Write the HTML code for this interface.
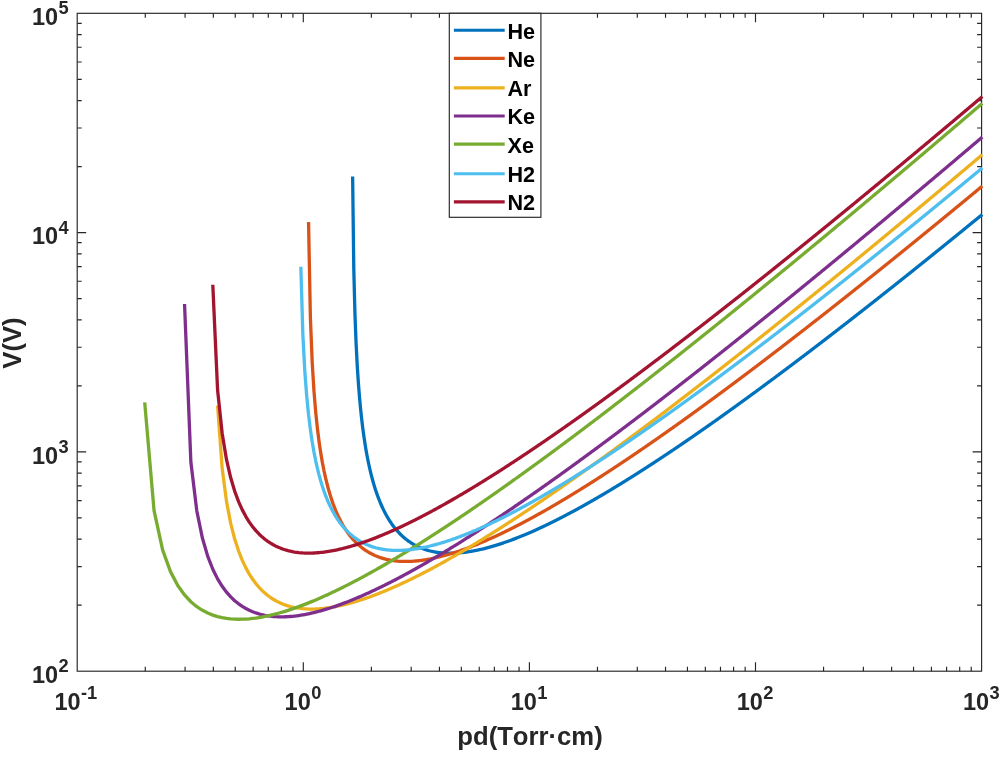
<!DOCTYPE html>
<html><head><meta charset="utf-8"><title>Paschen curves</title>
<style>html,body{margin:0;padding:0;background:#fff}body{width:1001px;height:761px;overflow:hidden}</style></head>
<body>
<svg width="1001" height="761" viewBox="0 0 1001 761" style="display:block">
<rect width="1001" height="761" fill="#fff"/>
<g stroke="#262626" stroke-width="1.15" fill="none">
<rect x="77.2" y="13.3" width="904.40" height="657.90"/>
<path d="M145.26 671.2 v-4.5 M145.26 13.3 v4.5 M185.08 671.2 v-4.5 M185.08 13.3 v4.5 M213.33 671.2 v-4.5 M213.33 13.3 v4.5 M235.24 671.2 v-4.5 M235.24 13.3 v4.5 M253.14 671.2 v-4.5 M253.14 13.3 v4.5 M268.28 671.2 v-4.5 M268.28 13.3 v4.5 M281.39 671.2 v-4.5 M281.39 13.3 v4.5 M292.95 671.2 v-4.5 M292.95 13.3 v4.5 M303.30 671.2 v-9.0 M303.30 13.3 v9.0 M371.36 671.2 v-4.5 M371.36 13.3 v4.5 M411.18 671.2 v-4.5 M411.18 13.3 v4.5 M439.43 671.2 v-4.5 M439.43 13.3 v4.5 M461.34 671.2 v-4.5 M461.34 13.3 v4.5 M479.24 671.2 v-4.5 M479.24 13.3 v4.5 M494.38 671.2 v-4.5 M494.38 13.3 v4.5 M507.49 671.2 v-4.5 M507.49 13.3 v4.5 M519.05 671.2 v-4.5 M519.05 13.3 v4.5 M529.40 671.2 v-9.0 M529.40 13.3 v9.0 M597.46 671.2 v-4.5 M597.46 13.3 v4.5 M637.28 671.2 v-4.5 M637.28 13.3 v4.5 M665.53 671.2 v-4.5 M665.53 13.3 v4.5 M687.44 671.2 v-4.5 M687.44 13.3 v4.5 M705.34 671.2 v-4.5 M705.34 13.3 v4.5 M720.48 671.2 v-4.5 M720.48 13.3 v4.5 M733.59 671.2 v-4.5 M733.59 13.3 v4.5 M745.15 671.2 v-4.5 M745.15 13.3 v4.5 M755.50 671.2 v-9.0 M755.50 13.3 v9.0 M823.56 671.2 v-4.5 M823.56 13.3 v4.5 M863.38 671.2 v-4.5 M863.38 13.3 v4.5 M891.63 671.2 v-4.5 M891.63 13.3 v4.5 M913.54 671.2 v-4.5 M913.54 13.3 v4.5 M931.44 671.2 v-4.5 M931.44 13.3 v4.5 M946.58 671.2 v-4.5 M946.58 13.3 v4.5 M959.69 671.2 v-4.5 M959.69 13.3 v4.5 M971.25 671.2 v-4.5 M971.25 13.3 v4.5 M77.2 605.18 h4.5 M981.6 605.18 h-4.5 M77.2 566.57 h4.5 M981.6 566.57 h-4.5 M77.2 539.17 h4.5 M981.6 539.17 h-4.5 M77.2 517.92 h4.5 M981.6 517.92 h-4.5 M77.2 500.55 h4.5 M981.6 500.55 h-4.5 M77.2 485.87 h4.5 M981.6 485.87 h-4.5 M77.2 473.15 h4.5 M981.6 473.15 h-4.5 M77.2 461.93 h4.5 M981.6 461.93 h-4.5 M77.2 451.90 h9.0 M981.6 451.90 h-9.0 M77.2 385.88 h4.5 M981.6 385.88 h-4.5 M77.2 347.27 h4.5 M981.6 347.27 h-4.5 M77.2 319.87 h4.5 M981.6 319.87 h-4.5 M77.2 298.62 h4.5 M981.6 298.62 h-4.5 M77.2 281.25 h4.5 M981.6 281.25 h-4.5 M77.2 266.57 h4.5 M981.6 266.57 h-4.5 M77.2 253.85 h4.5 M981.6 253.85 h-4.5 M77.2 242.63 h4.5 M981.6 242.63 h-4.5 M77.2 232.60 h9.0 M981.6 232.60 h-9.0 M77.2 166.58 h4.5 M981.6 166.58 h-4.5 M77.2 127.97 h4.5 M981.6 127.97 h-4.5 M77.2 100.57 h4.5 M981.6 100.57 h-4.5 M77.2 79.32 h4.5 M981.6 79.32 h-4.5 M77.2 61.95 h4.5 M981.6 61.95 h-4.5 M77.2 47.27 h4.5 M981.6 47.27 h-4.5 M77.2 34.55 h4.5 M981.6 34.55 h-4.5 M77.2 23.33 h4.5 M981.6 23.33 h-4.5"/>
</g>
<g fill="none" stroke-width="3.3" stroke-linejoin="round" stroke-linecap="butt">
<path d="M352.62 176.59 L353.80 269.59 L354.96 314.43 L356.11 343.88 L357.24 365.65 L358.37 382.79 L359.48 396.85 L360.57 408.71 L361.66 418.92 L362.73 427.84 L363.80 435.73 L364.85 442.79 L365.89 449.15 L366.91 454.92 L367.93 460.19 L368.94 465.03 L369.94 469.49 L370.93 473.61 L371.90 477.44 L372.87 481.01 L373.83 484.34 L374.78 487.46 L375.72 490.39 L376.65 493.14 L377.57 495.73 L378.49 498.18 L379.39 500.50 L380.29 502.69 L381.18 504.77 L382.06 506.74 L382.93 508.61 L383.80 510.39 L384.66 512.09 L385.51 513.71 L386.35 515.26 L387.19 516.73 L388.02 518.14 L388.84 519.49 L389.65 520.78 L390.46 522.01 L391.26 523.20 L392.06 524.33 L392.85 525.42 L393.63 526.47 L394.41 527.47 L395.18 528.44 L395.94 529.36 L396.70 530.26 L397.46 531.11 L398.20 531.94 L398.94 532.74 L399.68 533.50 L400.41 534.24 L401.14 534.95 L401.86 535.63 L402.57 536.30 L403.28 536.93 L403.98 537.55 L404.68 538.14 L405.38 538.71 L406.07 539.26 L406.75 539.80 L407.43 540.31 L408.11 540.81 L408.78 541.29 L409.44 541.75 L410.10 542.20 L410.76 542.63 L411.41 543.05 L412.06 543.45 L412.71 543.84 L413.35 544.22 L413.98 544.59 L414.62 544.94 L415.24 545.28 L415.87 545.61 L416.49 545.93 L417.10 546.23 L417.71 546.53 L418.32 546.82 L418.93 547.09 L419.53 547.36 L420.13 547.62 L420.72 547.87 L421.31 548.11 L421.90 548.34 L422.48 548.57 L423.64 549.00 L424.78 549.39 L425.91 549.77 L427.02 550.11 L428.13 550.43 L429.22 550.73 L430.30 551.00 L431.37 551.25 L432.42 551.49 L433.47 551.70 L434.50 551.90 L435.53 552.08 L436.54 552.25 L437.54 552.40 L438.53 552.53 L439.52 552.65 L440.49 552.76 L441.45 552.86 L442.41 552.94 L443.35 553.02 L444.29 553.08 L445.21 553.13 L446.13 553.18 L447.04 553.21 L447.94 553.23 L448.84 553.25 L449.72 553.26 L450.60 553.26 L451.47 553.25 L452.33 553.24 L453.18 553.21 L454.03 553.19 L454.87 553.15 L455.70 553.11 L456.53 553.07 L457.35 553.02 L458.16 552.96 L458.96 552.90 L459.76 552.83 L460.56 552.76 L461.34 552.69 L462.12 552.61 L462.90 552.52 L463.66 552.43 L464.42 552.34 L465.18 552.25 L465.93 552.15 L466.67 552.05 L467.41 551.94 L468.15 551.84 L468.87 551.72 L469.60 551.61 L470.31 551.49 L471.03 551.37 L471.73 551.25 L472.43 551.13 L473.13 551.00 L473.82 550.87 L474.51 550.74 L475.19 550.61 L475.87 550.48 L476.54 550.34 L477.21 550.20 L477.87 550.06 L478.53 549.92 L479.52 549.70 L480.49 549.48 L481.45 549.26 L482.40 549.04 L483.34 548.81 L484.28 548.58 L485.20 548.34 L486.12 548.11 L487.03 547.87 L487.93 547.63 L488.82 547.39 L489.70 547.14 L490.58 546.90 L491.45 546.65 L492.31 546.40 L493.16 546.15 L494.01 545.90 L494.85 545.65 L495.68 545.39 L496.50 545.14 L497.32 544.88 L498.13 544.63 L498.93 544.37 L499.73 544.11 L500.52 543.85 L501.31 543.59 L502.09 543.34 L502.86 543.08 L503.63 542.81 L504.39 542.55 L505.14 542.29 L505.89 542.03 L506.63 541.77 L507.37 541.51 L508.10 541.24 L508.83 540.98 L509.55 540.72 L510.27 540.46 L510.98 540.19 L511.69 539.93 L512.39 539.67 L513.08 539.41 L513.77 539.14 L514.46 538.88 L515.14 538.62 L515.82 538.36 L516.49 538.10 L517.16 537.83 L517.82 537.57 L518.48 537.31 L519.13 537.05 L519.78 536.79 L520.43 536.53 L521.07 536.27 L521.71 536.01 L522.34 535.75 L522.97 535.49 L523.60 535.23 L524.22 534.98 L524.83 534.72 L525.45 534.46 L526.06 534.20 L526.66 533.95 L527.27 533.69 L527.86 533.44 L528.46 533.18 L529.05 532.93 L529.64 532.67 L530.22 532.42 L530.80 532.16 L531.38 531.91 L531.95 531.66 L532.52 531.41 L533.09 531.16 L533.66 530.91 L534.22 530.66 L534.77 530.41 L535.33 530.16 L535.88 529.91 L536.61 529.58 L537.34 529.25 L538.06 528.92 L538.77 528.59 L539.48 528.26 L540.18 527.94 L540.88 527.61 L541.58 527.29 L542.27 526.97 L542.95 526.65 L543.63 526.32 L544.31 526.00 L544.98 525.69 L545.64 525.37 L546.31 525.05 L546.96 524.74 L547.62 524.42 L548.26 524.11 L548.91 523.80 L549.55 523.48 L550.18 523.17 L550.82 522.86 L551.44 522.56 L552.07 522.25 L552.69 521.94 L553.30 521.64 L553.92 521.33 L554.52 521.03 L555.13 520.73 L555.73 520.43 L556.33 520.12 L556.92 519.83 L557.51 519.53 L558.10 519.23 L558.68 518.93 L559.26 518.64 L559.84 518.34 L560.41 518.05 L560.98 517.76 L561.54 517.47 L562.11 517.18 L562.67 516.89 L563.22 516.60 L563.78 516.31 L564.33 516.03 L564.88 515.74 L565.42 515.46 L565.96 515.17 L566.50 514.89 L567.03 514.61 L567.57 514.33 L568.10 514.05 L568.62 513.77 L569.15 513.49 L569.80 513.14 L570.45 512.80 L571.09 512.46 L571.73 512.11 L572.36 511.77 L572.99 511.43 L573.62 511.10 L574.24 510.76 L574.86 510.43 L575.47 510.09 L576.08 509.76 L576.69 509.43 L577.29 509.10 L577.89 508.77 L578.49 508.45 L579.08 508.12 L579.67 507.80 L580.25 507.47 L580.84 507.15 L581.41 506.83 L581.99 506.51 L582.56 506.19 L583.13 505.88 L583.69 505.56 L584.26 505.25 L584.81 504.94 L585.37 504.62 L585.92 504.31 L586.47 504.00 L587.02 503.70 L587.56 503.39 L588.10 503.08 L588.64 502.78 L589.17 502.48 L589.70 502.18 L590.23 501.87 L590.76 501.57 L591.28 501.28 L591.80 500.98 L592.32 500.68 L592.83 500.39 L593.34 500.09 L593.85 499.80 L594.46 499.45 L595.07 499.10 L595.67 498.75 L596.26 498.41 L596.86 498.06 L597.44 497.72 L598.03 497.38 L598.61 497.04 L599.19 496.70 L599.77 496.37 L600.34 496.03 L600.91 495.70 L601.48 495.37 L602.04 495.03 L602.60 494.71 L603.15 494.38 L603.71 494.05 L604.26 493.73 L604.80 493.40 L605.35 493.08 L605.89 492.76 L606.43 492.44 L606.96 492.12 L607.49 491.80 L608.02 491.49 L608.55 491.17 L609.07 490.86 L609.59 490.55 L610.11 490.23 L610.63 489.93 L611.14 489.62 L611.65 489.31 L612.16 489.00 L612.66 488.70 L613.16 488.40 L613.66 488.09 L614.24 487.74 L614.82 487.39 L615.39 487.04 L615.96 486.70 L616.53 486.35 L617.09 486.01 L617.65 485.67 L618.21 485.33 L618.76 484.99 L619.31 484.65 L619.86 484.32 L620.40 483.98 L620.94 483.65 L621.48 483.32 L622.02 482.99 L622.55 482.66 L623.08 482.33 L623.61 482.01 L624.13 481.68 L624.65 481.36 L625.17 481.04 L625.68 480.72 L626.20 480.40 L626.71 480.08 L627.22 479.76 L627.72 479.45 L628.22 479.13 L628.72 478.82 L629.22 478.51 L629.72 478.20 L630.21 477.89 L630.77 477.54 L631.32 477.19 L631.88 476.84 L632.43 476.50 L632.98 476.15 L633.52 475.81 L634.06 475.47 L634.60 475.13 L635.14 474.79 L635.67 474.45 L636.20 474.11 L636.72 473.78 L637.25 473.45 L637.77 473.11 L638.29 472.78 L638.80 472.46 L639.32 472.13 L639.83 471.80 L640.33 471.48 L640.84 471.16 L641.34 470.83 L641.84 470.51 L642.34 470.19 L642.84 469.88 L643.33 469.56 L643.82 469.25 L644.31 468.93 L644.85 468.58 L645.39 468.23 L645.93 467.88 L646.47 467.54 L647.00 467.19 L647.53 466.85 L648.06 466.51 L648.59 466.17 L649.11 465.83 L649.63 465.49 L650.15 465.15 L650.66 464.82 L651.17 464.49 L651.68 464.15 L652.19 463.82 L652.69 463.50 L653.19 463.17 L653.69 462.84 L654.19 462.52 L654.68 462.20 L655.17 461.87 L655.66 461.55 L656.15 461.23 L656.63 460.92 L657.17 460.57 L657.70 460.22 L658.23 459.87 L658.75 459.52 L659.28 459.18 L659.80 458.83 L660.31 458.49 L660.83 458.15 L661.34 457.81 L661.85 457.47 L662.36 457.14 L662.86 456.80 L663.37 456.47 L663.87 456.14 L664.36 455.81 L664.86 455.48 L665.35 455.15 L665.84 454.83 L666.33 454.50 L666.81 454.18 L667.29 453.86 L667.77 453.54 L668.30 453.18 L668.82 452.84 L669.34 452.49 L669.86 452.14 L670.37 451.80 L670.88 451.45 L671.39 451.11 L671.90 450.77 L672.40 450.43 L672.90 450.10 L673.40 449.76 L673.90 449.43 L674.39 449.09 L674.88 448.76 L675.37 448.43 L675.86 448.11 L676.34 447.78 L676.82 447.45 L677.30 447.13 L677.82 446.78 L678.34 446.43 L678.85 446.08 L679.37 445.73 L679.88 445.39 L680.38 445.04 L680.89 444.70 L681.39 444.36 L681.89 444.02 L682.38 443.68 L682.88 443.34 L683.37 443.01 L683.86 442.67 L684.34 442.34 L684.83 442.01 L685.31 441.68 L685.79 441.35 L686.27 441.03 L686.78 440.68 L687.29 440.33 L687.80 439.98 L688.31 439.63 L688.81 439.28 L689.31 438.94 L689.81 438.60 L690.31 438.25 L690.80 437.92 L691.29 437.58 L691.78 437.24 L692.27 436.91 L692.75 436.57 L693.23 436.24 L693.71 435.91 L694.19 435.58 L694.66 435.25 L695.17 434.90 L695.68 434.55 L696.18 434.20 L696.68 433.85 L697.18 433.51 L697.68 433.16 L698.17 432.82 L698.66 432.48 L699.15 432.14 L699.63 431.80 L700.12 431.47 L700.60 431.13 L701.08 430.80 L701.55 430.47 L702.03 430.14 L702.50 429.81 L703.00 429.46 L703.50 429.11 L704.00 428.76 L704.50 428.41 L704.99 428.07 L705.48 427.72 L705.97 427.38 L706.45 427.04 L706.94 426.70 L707.42 426.37 L707.90 426.03 L708.37 425.70 L708.85 425.36 L709.32 425.03 L709.82 424.68 L710.32 424.33 L710.81 423.98 L711.31 423.63 L711.80 423.29 L712.28 422.94 L712.77 422.60 L713.25 422.26 L713.73 421.92 L714.21 421.58 L714.69 421.25 L715.16 420.91 L715.64 420.58 L716.10 420.24 L716.60 419.89 L717.09 419.54 L717.59 419.19 L718.08 418.85 L718.56 418.50 L719.05 418.16 L719.53 417.82 L720.01 417.48 L720.48 417.14 L720.96 416.80 L721.43 416.46 L721.90 416.13 L722.37 415.80 L722.86 415.44 L723.35 415.09 L723.84 414.75 L724.33 414.40 L724.81 414.05 L725.29 413.71 L725.77 413.37 L726.25 413.03 L726.72 412.69 L727.19 412.35 L727.66 412.02 L728.13 411.68 L728.62 411.33 L729.11 410.98 L729.60 410.63 L730.08 410.28 L730.56 409.94 L731.04 409.59 L731.52 409.25 L731.99 408.91 L732.46 408.57 L732.93 408.23 L733.40 407.90 L733.87 407.56 L734.35 407.21 L734.84 406.86 L735.32 406.51 L735.80 406.17 L736.28 405.82 L736.76 405.48 L737.23 405.14 L737.70 404.80 L738.17 404.46 L738.64 404.12 L739.10 403.78 L739.58 403.43 L740.07 403.08 L740.55 402.74 L741.03 402.39 L741.50 402.04 L741.98 401.70 L742.45 401.36 L742.92 401.02 L743.38 400.68 L743.85 400.34 L744.33 399.99 L744.81 399.64 L745.29 399.29 L745.77 398.94 L746.25 398.60 L746.72 398.25 L747.19 397.91 L747.66 397.57 L748.12 397.23 L748.59 396.89 L749.07 396.54 L749.55 396.19 L750.03 395.84 L750.50 395.49 L750.98 395.15 L751.45 394.80 L751.92 394.46 L752.38 394.12 L752.85 393.78 L753.31 393.44 L753.79 393.09 L754.27 392.74 L754.74 392.39 L755.22 392.05 L755.69 391.70 L756.16 391.36 L756.62 391.01 L757.09 390.67 L757.55 390.33 L758.03 389.98 L758.50 389.63 L758.98 389.28 L759.45 388.94 L759.92 388.59 L760.39 388.25 L760.85 387.90 L761.31 387.56 L761.78 387.22 L762.25 386.87 L762.73 386.52 L763.20 386.17 L763.67 385.83 L764.14 385.48 L764.60 385.14 L765.07 384.79 L765.53 384.45 L766.00 384.10 L766.48 383.75 L766.95 383.40 L767.42 383.05 L767.89 382.71 L768.35 382.36 L768.82 382.02 L769.28 381.68 L769.76 381.32 L770.23 380.97 L770.70 380.62 L771.17 380.28 L771.64 379.93 L772.10 379.58 L772.56 379.24 L773.02 378.90 L773.50 378.55 L773.97 378.19 L774.44 377.84 L774.91 377.50 L775.37 377.15 L775.84 376.81 L776.30 376.46 L776.76 376.12 L777.23 375.77 L777.70 375.42 L778.17 375.07 L778.63 374.72 L779.10 374.37 L779.56 374.03 L780.02 373.69 L780.49 373.33 L780.96 372.98 L781.43 372.63 L781.89 372.28 L782.36 371.94 L782.82 371.59 L783.28 371.25 L783.75 370.90 L784.22 370.54 L784.69 370.19 L785.15 369.85 L785.61 369.50 L786.08 369.15 L786.53 368.81 L787.00 368.46 L787.47 368.10 L787.94 367.75 L788.40 367.41 L788.86 367.06 L789.32 366.71 L789.78 366.37 L790.25 366.02 L790.72 365.67 L791.18 365.32 L791.64 364.97 L792.11 364.62 L792.56 364.28 L793.03 363.92 L793.50 363.57 L793.96 363.22 L794.43 362.87 L794.89 362.52 L795.35 362.18 L795.80 361.83 L796.27 361.48 L796.74 361.13 L797.20 360.78 L797.66 360.43 L798.12 360.09 L798.57 359.74 L799.04 359.39 L799.50 359.04 L799.97 358.69 L800.43 358.34 L800.89 357.99 L801.34 357.65 L801.81 357.29 L802.27 356.94 L802.73 356.59 L803.19 356.24 L803.65 355.90 L804.11 355.55 L804.57 355.20 L805.03 354.85 L805.49 354.50 L805.95 354.15 L806.41 353.80 L806.88 353.45 L807.34 353.09 L807.80 352.74 L808.26 352.39 L808.72 352.05 L809.17 351.70 L809.64 351.35 L810.10 350.99 L810.56 350.64 L811.02 350.30 L811.47 349.95 L811.94 349.59 L812.40 349.24 L812.86 348.89 L813.32 348.54 L813.77 348.19 L814.23 347.85 L814.69 347.49 L815.15 347.14 L815.61 346.79 L816.07 346.44 L816.52 346.10 L816.98 345.74 L817.44 345.39 L817.90 345.04 L818.36 344.69 L818.81 344.34 L819.27 343.99 L819.73 343.64 L820.19 343.29 L820.65 342.94 L821.10 342.59 L821.56 342.24 L822.02 341.88 L822.48 341.53 L822.93 341.19 L823.39 340.84 L823.85 340.48 L824.30 340.13 L824.76 339.78 L825.22 339.43 L825.68 339.08 L826.14 338.72 L826.59 338.37 L827.05 338.02 L827.50 337.67 L827.96 337.32 L828.42 336.97 L828.88 336.62 L829.33 336.27 L829.78 335.92 L830.24 335.57 L830.70 335.21 L831.15 334.86 L831.61 334.51 L832.07 334.16 L832.52 333.81 L832.98 333.46 L833.43 333.11 L833.89 332.75 L834.35 332.40 L834.81 332.04 L835.26 331.69 L835.71 331.35 L836.17 330.99 L836.63 330.64 L837.08 330.29 L837.53 329.94 L837.99 329.58 L838.45 329.23 L838.90 328.88 L839.35 328.53 L839.81 328.18 L840.27 327.82 L840.72 327.47 L841.17 327.12 L841.63 326.77 L842.09 326.41 L842.54 326.06 L842.99 325.71 L843.45 325.36 L843.91 325.00 L844.36 324.65 L844.81 324.30 L845.27 323.95 L845.72 323.59 L846.18 323.24 L846.63 322.89 L847.08 322.54 L847.54 322.18 L847.99 321.83 L848.44 321.48 L848.90 321.13 L849.35 320.77 L849.80 320.42 L850.26 320.07 L850.71 319.71 L851.16 319.36 L851.62 319.01 L852.07 318.66 L852.52 318.30 L852.98 317.95 L853.43 317.60 L853.88 317.24 L854.33 316.89 L854.78 316.54 L855.24 316.18 L855.69 315.83 L856.15 315.48 L856.59 315.13 L857.05 314.77 L857.50 314.42 L857.95 314.07 L858.41 313.71 L858.86 313.36 L859.31 313.01 L859.77 312.65 L860.22 312.30 L860.67 311.94 L861.12 311.59 L861.57 311.24 L862.03 310.88 L862.48 310.53 L862.93 310.17 L863.38 309.82 L863.83 309.47 L864.29 309.11 L864.74 308.76 L865.19 308.40 L865.64 308.05 L866.10 307.69 L866.55 307.34 L867.00 306.99 L867.45 306.63 L867.90 306.28 L868.35 305.93 L868.80 305.57 L869.25 305.22 L869.70 304.87 L870.15 304.51 L870.60 304.16 L871.05 303.80 L871.50 303.45 L871.95 303.09 L872.40 302.74 L872.86 302.39 L873.31 302.03 L873.75 301.68 L874.21 301.32 L874.66 300.97 L875.10 300.62 L875.56 300.26 L876.00 299.91 L876.45 299.55 L876.90 299.20 L877.35 298.84 L877.81 298.49 L878.26 298.13 L878.70 297.78 L879.16 297.42 L879.61 297.07 L880.05 296.71 L880.51 296.36 L880.96 296.00 L881.40 295.65 L881.85 295.29 L882.30 294.94 L882.75 294.58 L883.20 294.23 L883.65 293.87 L884.10 293.52 L884.55 293.16 L885.00 292.81 L885.45 292.45 L885.90 292.10 L886.35 291.74 L886.80 291.38 L887.25 291.03 L887.70 290.67 L888.14 290.32 L888.59 289.96 L889.04 289.61 L889.49 289.25 L889.94 288.90 L890.39 288.54 L890.84 288.18 L891.29 287.83 L891.74 287.47 L892.19 287.12 L892.63 286.76 L893.08 286.40 L893.53 286.05 L893.98 285.69 L894.43 285.34 L894.87 284.98 L895.32 284.63 L895.77 284.27 L896.22 283.91 L896.67 283.56 L897.12 283.20 L897.57 282.84 L898.01 282.49 L898.46 282.13 L898.91 281.78 L899.36 281.42 L899.81 281.06 L900.25 280.71 L900.70 280.35 L901.15 280.00 L901.60 279.64 L902.04 279.28 L902.49 278.93 L902.94 278.57 L903.39 278.21 L903.84 277.86 L904.28 277.50 L904.73 277.14 L905.18 276.79 L905.63 276.43 L906.07 276.07 L906.52 275.72 L906.96 275.36 L907.41 275.00 L907.86 274.65 L908.31 274.29 L908.75 273.93 L909.20 273.58 L909.65 273.22 L910.09 272.86 L910.54 272.51 L910.99 272.15 L911.43 271.79 L911.88 271.43 L912.33 271.08 L912.78 270.72 L913.22 270.36 L913.67 270.00 L914.12 269.65 L914.56 269.29 L915.01 268.93 L915.46 268.57 L915.90 268.22 L916.35 267.86 L916.79 267.50 L917.24 267.15 L917.69 266.79 L918.13 266.43 L918.58 266.07 L919.02 265.72 L919.47 265.36 L919.91 265.00 L920.36 264.65 L920.80 264.29 L921.25 263.93 L921.70 263.57 L922.14 263.22 L922.59 262.86 L923.03 262.50 L923.48 262.14 L923.92 261.79 L924.37 261.43 L924.81 261.07 L925.26 260.71 L925.71 260.36 L926.15 260.00 L926.60 259.64 L927.04 259.28 L927.49 258.93 L927.93 258.57 L928.38 258.21 L928.82 257.85 L929.27 257.49 L929.71 257.14 L930.16 256.78 L930.60 256.42 L931.05 256.06 L931.49 255.70 L931.94 255.34 L932.38 254.99 L932.83 254.63 L933.27 254.27 L933.72 253.91 L934.16 253.55 L934.60 253.20 L935.05 252.84 L935.49 252.48 L935.94 252.12 L936.38 251.76 L936.83 251.40 L937.27 251.04 L937.71 250.69 L938.16 250.33 L938.60 249.97 L939.05 249.61 L939.49 249.25 L939.94 248.89 L940.38 248.54 L940.82 248.18 L941.27 247.82 L941.71 247.46 L942.15 247.10 L942.60 246.74 L943.04 246.39 L943.48 246.03 L943.93 245.67 L944.37 245.31 L944.82 244.95 L945.26 244.59 L945.70 244.23 L946.15 243.88 L946.59 243.52 L947.03 243.16 L947.48 242.80 L947.92 242.44 L948.36 242.08 L948.81 241.72 L949.25 241.36 L949.69 241.00 L950.14 240.64 L950.58 240.28 L951.02 239.93 L951.47 239.57 L951.91 239.21 L952.35 238.85 L952.80 238.49 L953.24 238.13 L953.68 237.77 L954.13 237.41 L954.57 237.05 L955.01 236.69 L955.46 236.33 L955.90 235.97 L956.34 235.61 L956.78 235.25 L957.23 234.89 L957.67 234.53 L958.11 234.17 L958.55 233.81 L959.00 233.45 L959.44 233.09 L959.88 232.73 L960.33 232.38 L960.77 232.02 L961.21 231.66 L961.65 231.29 L962.10 230.94 L962.54 230.58 L962.98 230.22 L963.42 229.86 L963.87 229.50 L964.31 229.14 L964.75 228.78 L965.19 228.42 L965.63 228.06 L966.08 227.70 L966.52 227.34 L966.96 226.97 L967.40 226.62 L967.84 226.26 L968.29 225.90 L968.73 225.54 L969.17 225.18 L969.61 224.82 L970.06 224.45 L970.50 224.09 L970.94 223.73 L971.38 223.37 L971.82 223.01 L972.26 222.65 L972.70 222.29 L973.15 221.93 L973.59 221.57 L974.03 221.21 L974.47 220.85 L974.91 220.49 L975.36 220.13 L975.80 219.77 L976.24 219.41 L976.68 219.05 L977.12 218.69 L977.56 218.33 L978.00 217.97 L978.44 217.61 L978.88 217.25 L979.32 216.89 L979.76 216.53 L980.20 216.17 L980.65 215.81 L981.09 215.45 L981.50 215.11 L982.27 214.47" stroke="#0072BD"/>
<path d="M308.55 222.08 L310.39 317.48 L312.19 362.14 L313.96 391.01 L315.70 412.07 L317.41 428.48 L319.09 441.78 L320.74 452.89 L322.36 462.35 L323.96 470.53 L325.53 477.70 L327.08 484.05 L328.60 489.71 L330.10 494.80 L331.58 499.41 L333.03 503.59 L334.47 507.41 L335.88 510.90 L337.28 514.12 L338.65 517.09 L340.01 519.83 L341.34 522.37 L342.66 524.74 L343.96 526.94 L345.25 528.99 L346.51 530.91 L347.77 532.71 L349.00 534.39 L350.22 535.97 L351.43 537.45 L352.62 538.84 L353.80 540.16 L354.96 541.39 L356.11 542.56 L357.24 543.66 L358.37 544.70 L359.48 545.68 L360.57 546.60 L361.66 547.48 L362.73 548.31 L363.80 549.09 L364.85 549.84 L365.89 550.54 L366.91 551.21 L367.93 551.84 L368.94 552.44 L369.94 553.00 L370.93 553.54 L371.90 554.05 L372.87 554.53 L373.83 554.99 L374.78 555.43 L375.72 555.84 L376.65 556.22 L377.57 556.59 L378.49 556.94 L379.39 557.27 L380.29 557.58 L381.18 557.88 L382.06 558.16 L382.93 558.42 L383.80 558.67 L384.66 558.90 L385.51 559.12 L386.35 559.33 L387.19 559.52 L388.02 559.70 L388.84 559.87 L389.65 560.03 L390.46 560.18 L391.26 560.32 L392.06 560.45 L392.85 560.57 L393.63 560.68 L394.41 560.78 L395.18 560.88 L395.94 560.96 L396.70 561.04 L397.46 561.11 L398.20 561.18 L399.68 561.28 L401.14 561.36 L402.57 561.42 L403.98 561.46 L405.38 561.47 L406.75 561.47 L408.11 561.45 L409.44 561.41 L410.76 561.35 L412.06 561.29 L413.35 561.20 L414.62 561.11 L415.87 561.00 L417.10 560.88 L418.32 560.76 L419.53 560.62 L420.72 560.47 L421.90 560.31 L423.06 560.15 L424.21 559.98 L425.34 559.80 L426.47 559.62 L427.58 559.42 L428.67 559.23 L429.76 559.02 L430.83 558.82 L431.90 558.60 L432.95 558.39 L433.99 558.16 L435.02 557.94 L436.03 557.71 L437.04 557.48 L438.04 557.24 L439.03 557.00 L440.00 556.76 L440.97 556.51 L441.93 556.27 L442.88 556.02 L443.82 555.76 L444.75 555.51 L445.67 555.25 L446.59 555.00 L447.49 554.74 L448.39 554.47 L449.28 554.21 L450.16 553.95 L451.03 553.68 L451.90 553.42 L452.76 553.15 L453.61 552.88 L454.45 552.61 L455.29 552.34 L456.12 552.07 L456.94 551.80 L457.75 551.53 L458.56 551.25 L459.36 550.98 L460.16 550.71 L460.95 550.43 L461.73 550.16 L462.51 549.88 L463.28 549.61 L464.04 549.33 L464.80 549.06 L465.56 548.78 L466.30 548.51 L467.04 548.23 L467.78 547.96 L468.51 547.68 L469.24 547.41 L469.96 547.13 L470.67 546.86 L471.38 546.59 L472.08 546.31 L472.78 546.04 L473.48 545.76 L474.17 545.49 L474.85 545.22 L475.53 544.94 L476.21 544.67 L476.88 544.40 L477.54 544.13 L478.21 543.86 L478.86 543.58 L479.52 543.31 L480.16 543.04 L480.81 542.77 L481.45 542.50 L482.08 542.24 L482.72 541.97 L483.34 541.70 L483.97 541.43 L484.59 541.17 L485.20 540.90 L485.82 540.63 L486.42 540.37 L487.03 540.10 L487.63 539.84 L488.23 539.57 L488.82 539.31 L489.41 539.05 L490.00 538.79 L490.58 538.53 L491.16 538.27 L491.74 538.00 L492.31 537.75 L492.88 537.49 L493.44 537.23 L494.01 536.97 L494.57 536.71 L495.12 536.46 L495.68 536.20 L496.23 535.94 L496.78 535.69 L497.59 535.31 L498.40 534.93 L499.20 534.55 L500.00 534.17 L500.79 533.80 L501.57 533.43 L502.35 533.05 L503.12 532.68 L503.88 532.31 L504.64 531.94 L505.39 531.58 L506.14 531.21 L506.88 530.85 L507.62 530.49 L508.35 530.12 L509.07 529.76 L509.79 529.41 L510.51 529.05 L511.22 528.69 L511.92 528.34 L512.62 527.99 L513.31 527.64 L514.00 527.29 L514.69 526.94 L515.37 526.59 L516.04 526.25 L516.71 525.90 L517.38 525.56 L518.04 525.22 L518.70 524.88 L519.35 524.54 L520.00 524.20 L520.64 523.86 L521.28 523.53 L521.92 523.20 L522.55 522.86 L523.18 522.53 L523.80 522.20 L524.42 521.87 L525.04 521.55 L525.65 521.22 L526.26 520.90 L526.86 520.57 L527.47 520.25 L528.06 519.93 L528.66 519.61 L529.25 519.29 L529.83 518.98 L530.42 518.66 L531.00 518.35 L531.57 518.03 L532.14 517.72 L532.71 517.41 L533.28 517.10 L533.84 516.79 L534.40 516.48 L534.96 516.18 L535.51 515.87 L536.06 515.57 L536.61 515.27 L537.16 514.96 L537.70 514.66 L538.24 514.36 L538.77 514.07 L539.30 513.77 L539.83 513.47 L540.36 513.18 L540.88 512.88 L541.40 512.59 L541.92 512.30 L542.44 512.01 L542.95 511.72 L543.63 511.34 L544.31 510.95 L544.98 510.57 L545.64 510.19 L546.31 509.82 L546.96 509.44 L547.62 509.07 L548.26 508.70 L548.91 508.33 L549.55 507.96 L550.18 507.59 L550.82 507.23 L551.44 506.86 L552.07 506.50 L552.69 506.14 L553.30 505.78 L553.92 505.43 L554.52 505.07 L555.13 504.72 L555.73 504.37 L556.33 504.02 L556.92 503.67 L557.51 503.32 L558.10 502.98 L558.68 502.63 L559.26 502.29 L559.84 501.95 L560.41 501.61 L560.98 501.27 L561.54 500.94 L562.11 500.60 L562.67 500.27 L563.22 499.93 L563.78 499.60 L564.33 499.27 L564.88 498.95 L565.42 498.62 L565.96 498.30 L566.50 497.97 L567.03 497.65 L567.57 497.33 L568.10 497.01 L568.62 496.69 L569.15 496.37 L569.67 496.06 L570.19 495.74 L570.70 495.43 L571.22 495.12 L571.73 494.81 L572.23 494.50 L572.74 494.19 L573.24 493.88 L573.74 493.58 L574.24 493.27 L574.86 492.89 L575.47 492.52 L576.08 492.14 L576.69 491.77 L577.29 491.40 L577.89 491.03 L578.49 490.66 L579.08 490.29 L579.67 489.93 L580.25 489.57 L580.84 489.21 L581.41 488.85 L581.99 488.49 L582.56 488.13 L583.13 487.78 L583.69 487.43 L584.26 487.07 L584.81 486.73 L585.37 486.38 L585.92 486.03 L586.47 485.69 L587.02 485.34 L587.56 485.00 L588.10 484.66 L588.64 484.32 L589.17 483.99 L589.70 483.65 L590.23 483.32 L590.76 482.98 L591.28 482.65 L591.80 482.32 L592.32 481.99 L592.83 481.67 L593.34 481.34 L593.85 481.02 L594.36 480.69 L594.86 480.37 L595.37 480.05 L595.86 479.73 L596.36 479.42 L596.86 479.10 L597.35 478.79 L597.84 478.47 L598.42 478.10 L599.00 477.73 L599.58 477.35 L600.15 476.99 L600.72 476.62 L601.29 476.25 L601.85 475.89 L602.41 475.53 L602.97 475.17 L603.52 474.81 L604.07 474.45 L604.62 474.10 L605.17 473.74 L605.71 473.39 L606.25 473.04 L606.78 472.69 L607.32 472.34 L607.85 472.00 L608.37 471.65 L608.90 471.31 L609.42 470.97 L609.94 470.63 L610.45 470.29 L610.97 469.96 L611.48 469.62 L611.99 469.29 L612.49 468.96 L612.99 468.63 L613.50 468.30 L613.99 467.97 L614.49 467.64 L614.98 467.32 L615.47 466.99 L615.96 466.67 L616.45 466.35 L616.93 466.03 L617.49 465.66 L618.05 465.29 L618.60 464.92 L619.15 464.56 L619.70 464.19 L620.25 463.83 L620.79 463.47 L621.33 463.11 L621.86 462.75 L622.40 462.40 L622.93 462.04 L623.45 461.69 L623.98 461.34 L624.50 460.99 L625.02 460.64 L625.54 460.30 L626.05 459.95 L626.56 459.61 L627.07 459.27 L627.58 458.93 L628.08 458.59 L628.58 458.26 L629.08 457.92 L629.57 457.59 L630.07 457.25 L630.56 456.92 L631.05 456.59 L631.53 456.27 L632.02 455.94 L632.50 455.61 L632.98 455.29 L633.52 454.92 L634.06 454.55 L634.60 454.19 L635.14 453.83 L635.67 453.47 L636.20 453.11 L636.72 452.75 L637.25 452.39 L637.77 452.04 L638.29 451.68 L638.80 451.33 L639.32 450.98 L639.83 450.63 L640.33 450.29 L640.84 449.94 L641.34 449.60 L641.84 449.25 L642.34 448.91 L642.84 448.58 L643.33 448.24 L643.82 447.90 L644.31 447.57 L644.79 447.23 L645.27 446.90 L645.75 446.57 L646.23 446.24 L646.71 445.91 L647.24 445.55 L647.77 445.18 L648.30 444.82 L648.82 444.46 L649.34 444.10 L649.86 443.74 L650.38 443.38 L650.89 443.03 L651.40 442.68 L651.91 442.32 L652.41 441.97 L652.91 441.62 L653.41 441.28 L653.91 440.93 L654.41 440.59 L654.90 440.25 L655.39 439.91 L655.88 439.57 L656.36 439.23 L656.85 438.89 L657.33 438.56 L657.80 438.22 L658.28 437.89 L658.75 437.56 L659.22 437.23 L659.75 436.87 L660.26 436.51 L660.78 436.15 L661.29 435.79 L661.80 435.43 L662.31 435.07 L662.81 434.72 L663.32 434.37 L663.82 434.02 L664.31 433.67 L664.81 433.32 L665.30 432.97 L665.79 432.63 L666.28 432.29 L666.76 431.94 L667.24 431.61 L667.72 431.27 L668.20 430.93 L668.68 430.59 L669.15 430.26 L669.62 429.93 L670.14 429.56 L670.65 429.20 L671.16 428.84 L671.67 428.48 L672.17 428.12 L672.68 427.77 L673.18 427.41 L673.67 427.06 L674.17 426.71 L674.66 426.36 L675.15 426.01 L675.64 425.67 L676.12 425.32 L676.60 424.98 L677.08 424.64 L677.56 424.30 L678.04 423.96 L678.51 423.62 L678.98 423.28 L679.45 422.95 L679.96 422.59 L680.47 422.23 L680.97 421.87 L681.47 421.51 L681.97 421.15 L682.47 420.80 L682.96 420.44 L683.45 420.09 L683.94 419.74 L684.42 419.39 L684.91 419.05 L685.39 418.70 L685.87 418.36 L686.35 418.02 L686.82 417.68 L687.29 417.34 L687.76 417.00 L688.23 416.66 L688.70 416.33 L689.20 415.97 L689.70 415.61 L690.19 415.25 L690.69 414.89 L691.18 414.54 L691.67 414.19 L692.15 413.83 L692.64 413.48 L693.12 413.14 L693.60 412.79 L694.08 412.44 L694.55 412.10 L695.03 411.76 L695.50 411.42 L695.97 411.08 L696.43 410.74 L696.93 410.38 L697.43 410.02 L697.92 409.66 L698.41 409.30 L698.90 408.95 L699.39 408.60 L699.88 408.24 L700.36 407.89 L700.84 407.54 L701.32 407.20 L701.79 406.85 L702.26 406.51 L702.73 406.16 L703.20 405.82 L703.67 405.48 L704.13 405.14 L704.63 404.78 L705.12 404.42 L705.61 404.07 L706.10 403.71 L706.58 403.36 L707.06 403.00 L707.55 402.65 L708.02 402.30 L708.50 401.95 L708.97 401.61 L709.44 401.26 L709.91 400.92 L710.38 400.58 L710.84 400.24 L711.31 399.90 L711.80 399.54 L712.28 399.18 L712.77 398.82 L713.25 398.47 L713.73 398.11 L714.21 397.76 L714.69 397.41 L715.16 397.06 L715.64 396.72 L716.10 396.37 L716.57 396.03 L717.04 395.68 L717.50 395.34 L717.96 395.00 L718.45 394.64 L718.93 394.29 L719.41 393.93 L719.89 393.58 L720.37 393.22 L720.85 392.87 L721.32 392.52 L721.79 392.17 L722.26 391.83 L722.73 391.48 L723.19 391.14 L723.65 390.80 L724.11 390.46 L724.60 390.10 L725.08 389.74 L725.56 389.38 L726.04 389.03 L726.51 388.68 L726.98 388.33 L727.46 387.98 L727.92 387.63 L728.39 387.28 L728.85 386.94 L729.32 386.59 L729.77 386.25 L730.26 385.89 L730.74 385.54 L731.22 385.18 L731.69 384.83 L732.17 384.47 L732.64 384.12 L733.11 383.77 L733.57 383.42 L734.04 383.08 L734.50 382.73 L734.96 382.39 L735.42 382.05 L735.90 381.69 L736.37 381.33 L736.85 380.98 L737.32 380.62 L737.79 380.27 L738.26 379.92 L738.73 379.57 L739.19 379.22 L739.65 378.88 L740.11 378.53 L740.57 378.19 L741.05 377.83 L741.52 377.48 L742.00 377.12 L742.47 376.77 L742.94 376.42 L743.41 376.07 L743.87 375.72 L744.33 375.37 L744.79 375.02 L745.25 374.68 L745.73 374.32 L746.20 373.96 L746.68 373.61 L747.15 373.25 L747.62 372.90 L748.08 372.55 L748.55 372.20 L749.01 371.85 L749.47 371.50 L749.92 371.16 L750.40 370.80 L750.87 370.44 L751.35 370.09 L751.82 369.73 L752.28 369.38 L752.75 369.03 L753.21 368.68 L753.67 368.33 L754.13 367.99 L754.58 367.64 L755.06 367.28 L755.53 366.93 L756.00 366.57 L756.47 366.22 L756.93 365.86 L757.39 365.51 L757.85 365.16 L758.31 364.82 L758.77 364.47 L759.24 364.11 L759.71 363.76 L760.18 363.40 L760.65 363.05 L761.11 362.69 L761.57 362.34 L762.03 361.99 L762.49 361.65 L762.95 361.30 L763.42 360.94 L763.89 360.58 L764.35 360.23 L764.82 359.88 L765.28 359.52 L765.74 359.17 L766.20 358.82 L766.65 358.48 L767.13 358.12 L767.60 357.76 L768.06 357.40 L768.53 357.05 L768.99 356.70 L769.45 356.35 L769.91 356.00 L770.36 355.65 L770.82 355.30 L771.29 354.94 L771.75 354.59 L772.22 354.23 L772.68 353.88 L773.14 353.53 L773.60 353.18 L774.05 352.83 L774.51 352.48 L774.97 352.12 L775.44 351.77 L775.90 351.41 L776.36 351.06 L776.82 350.71 L777.28 350.36 L777.73 350.01 L778.20 349.65 L778.67 349.29 L779.13 348.94 L779.59 348.58 L780.05 348.23 L780.51 347.88 L780.96 347.53 L781.41 347.18 L781.88 346.83 L782.34 346.47 L782.80 346.11 L783.26 345.76 L783.72 345.41 L784.18 345.06 L784.63 344.71 L785.09 344.35 L785.56 344.00 L786.02 343.64 L786.48 343.29 L786.93 342.94 L787.39 342.58 L787.84 342.24 L788.30 341.88 L788.77 341.52 L789.23 341.17 L789.68 340.81 L790.14 340.46 L790.59 340.11 L791.05 339.76 L791.51 339.40 L791.97 339.05 L792.43 338.69 L792.89 338.34 L793.34 337.99 L793.79 337.64 L794.26 337.28 L794.72 336.92 L795.18 336.57 L795.63 336.21 L796.09 335.86 L796.54 335.51 L796.99 335.16 L797.45 334.80 L797.91 334.45 L798.37 334.09 L798.83 333.74 L799.28 333.39 L799.73 333.04 L800.19 332.68 L800.65 332.32 L801.11 331.97 L801.56 331.62 L802.02 331.27 L802.47 330.91 L802.93 330.56 L803.39 330.20 L803.84 329.85 L804.30 329.49 L804.75 329.14 L805.20 328.79 L805.66 328.43 L806.12 328.08 L806.57 327.72 L807.03 327.37 L807.48 327.02 L807.94 326.66 L808.40 326.30 L808.85 325.94 L809.31 325.59 L809.76 325.24 L810.21 324.89 L810.67 324.53 L811.13 324.17 L811.58 323.82 L812.04 323.46 L812.49 323.11 L812.95 322.75 L813.41 322.39 L813.86 322.04 L814.31 321.68 L814.77 321.33 L815.22 320.98 L815.67 320.62 L816.13 320.26 L816.58 319.91 L817.03 319.56 L817.48 319.20 L817.94 318.84 L818.40 318.49 L818.85 318.13 L819.30 317.78 L819.75 317.43 L820.21 317.07 L820.67 316.71 L821.12 316.36 L821.57 316.00 L822.02 315.65 L822.48 315.29 L822.93 314.93 L823.39 314.58 L823.84 314.22 L824.28 313.87 L824.74 313.51 L825.20 313.16 L825.65 312.80 L826.10 312.45 L826.55 312.10 L827.00 311.74 L827.46 311.38 L827.91 311.03 L828.36 310.67 L828.81 310.31 L829.27 309.96 L829.72 309.60 L830.17 309.25 L830.62 308.89 L831.07 308.53 L831.53 308.18 L831.98 307.82 L832.43 307.47 L832.88 307.11 L833.34 306.75 L833.79 306.40 L834.24 306.04 L834.69 305.69 L835.14 305.33 L835.59 304.97 L836.04 304.62 L836.49 304.26 L836.94 303.91 L837.40 303.55 L837.85 303.19 L838.30 302.84 L838.75 302.48 L839.20 302.12 L839.65 301.77 L840.10 301.41 L840.56 301.05 L841.01 300.69 L841.46 300.34 L841.91 299.98 L842.36 299.62 L842.82 299.26 L843.27 298.91 L843.71 298.55 L844.17 298.19 L844.62 297.84 L845.07 297.48 L845.52 297.12 L845.97 296.76 L846.42 296.41 L846.87 296.05 L847.32 295.69 L847.77 295.34 L848.23 294.98 L848.68 294.62 L849.12 294.27 L849.57 293.91 L850.03 293.55 L850.47 293.19 L850.92 292.84 L851.37 292.48 L851.82 292.12 L852.27 291.77 L852.72 291.41 L853.17 291.05 L853.62 290.69 L854.07 290.34 L854.52 289.98 L854.97 289.62 L855.42 289.26 L855.86 288.91 L856.31 288.55 L856.76 288.19 L857.21 287.84 L857.66 287.48 L858.11 287.12 L858.56 286.76 L859.00 286.41 L859.45 286.05 L859.90 285.69 L860.35 285.34 L860.80 284.98 L861.25 284.62 L861.69 284.27 L862.14 283.91 L862.59 283.55 L863.04 283.19 L863.49 282.83 L863.94 282.48 L864.38 282.12 L864.83 281.76 L865.28 281.40 L865.73 281.05 L866.17 280.69 L866.62 280.33 L867.07 279.97 L867.52 279.62 L867.97 279.26 L868.42 278.90 L868.86 278.54 L869.31 278.18 L869.76 277.82 L870.21 277.46 L870.66 277.10 L871.11 276.74 L871.55 276.39 L872.00 276.03 L872.45 275.67 L872.90 275.31 L873.35 274.95 L873.79 274.59 L874.24 274.23 L874.69 273.87 L875.14 273.52 L875.58 273.16 L876.03 272.80 L876.48 272.44 L876.93 272.08 L877.38 271.72 L877.82 271.36 L878.27 271.01 L878.72 270.65 L879.16 270.29 L879.61 269.93 L880.05 269.57 L880.50 269.21 L880.94 268.86 L881.39 268.50 L881.84 268.14 L882.29 267.78 L882.73 267.42 L883.18 267.06 L883.63 266.70 L884.07 266.34 L884.51 265.99 L884.96 265.63 L885.41 265.27 L885.86 264.91 L886.30 264.55 L886.75 264.19 L887.19 263.83 L887.64 263.47 L888.08 263.11 L888.53 262.76 L888.97 262.40 L889.42 262.04 L889.87 261.68 L890.31 261.32 L890.76 260.96 L891.20 260.60 L891.65 260.24 L892.09 259.88 L892.54 259.53 L892.98 259.17 L893.43 258.81 L893.87 258.45 L894.32 258.09 L894.76 257.73 L895.21 257.37 L895.65 257.01 L896.10 256.65 L896.54 256.29 L896.99 255.93 L897.43 255.57 L897.88 255.21 L898.32 254.85 L898.76 254.50 L899.21 254.14 L899.65 253.78 L900.10 253.42 L900.54 253.06 L900.99 252.70 L901.43 252.34 L901.88 251.98 L902.32 251.62 L902.76 251.26 L903.21 250.90 L903.65 250.54 L904.10 250.18 L904.54 249.82 L904.99 249.46 L905.43 249.10 L905.88 248.74 L906.32 248.38 L906.76 248.02 L907.21 247.66 L907.65 247.30 L908.09 246.94 L908.54 246.58 L908.98 246.22 L909.43 245.86 L909.87 245.50 L910.31 245.14 L910.76 244.78 L911.20 244.42 L911.65 244.06 L912.09 243.70 L912.54 243.34 L912.98 242.98 L913.42 242.62 L913.87 242.26 L914.31 241.90 L914.75 241.54 L915.20 241.18 L915.64 240.82 L916.09 240.46 L916.53 240.10 L916.97 239.73 L917.42 239.37 L917.86 239.01 L918.30 238.65 L918.75 238.29 L919.19 237.93 L919.63 237.57 L920.07 237.21 L920.52 236.85 L920.96 236.49 L921.40 236.13 L921.84 235.77 L922.28 235.41 L922.73 235.05 L923.17 234.69 L923.61 234.33 L924.06 233.97 L924.50 233.61 L924.94 233.25 L925.38 232.89 L925.82 232.53 L926.27 232.17 L926.71 231.80 L927.15 231.44 L927.59 231.08 L928.04 230.72 L928.48 230.36 L928.92 230.00 L929.36 229.64 L929.80 229.28 L930.25 228.92 L930.69 228.56 L931.13 228.20 L931.57 227.84 L932.01 227.48 L932.46 227.11 L932.90 226.75 L933.34 226.39 L933.78 226.03 L934.22 225.67 L934.66 225.31 L935.11 224.95 L935.55 224.59 L935.99 224.23 L936.43 223.87 L936.87 223.51 L937.31 223.14 L937.75 222.78 L938.20 222.42 L938.64 222.06 L939.08 221.70 L939.52 221.34 L939.96 220.97 L940.40 220.61 L940.84 220.25 L941.28 219.89 L941.72 219.53 L942.17 219.17 L942.61 218.81 L943.05 218.45 L943.49 218.09 L943.93 217.72 L944.37 217.36 L944.81 217.00 L945.25 216.64 L945.69 216.28 L946.13 215.92 L946.58 215.55 L947.02 215.19 L947.46 214.83 L947.90 214.47 L948.34 214.11 L948.78 213.75 L949.22 213.38 L949.66 213.02 L950.10 212.66 L950.54 212.30 L950.98 211.94 L951.42 211.57 L951.86 211.21 L952.30 210.85 L952.74 210.49 L953.19 210.13 L953.63 209.77 L954.07 209.40 L954.51 209.04 L954.95 208.68 L955.39 208.32 L955.83 207.96 L956.27 207.59 L956.71 207.23 L957.15 206.87 L957.59 206.51 L958.03 206.15 L958.47 205.78 L958.91 205.42 L959.35 205.06 L959.79 204.70 L960.23 204.33 L960.67 203.97 L961.11 203.61 L961.55 203.25 L961.99 202.88 L962.43 202.52 L962.87 202.16 L963.31 201.79 L963.75 201.43 L964.19 201.07 L964.63 200.71 L965.07 200.35 L965.51 199.98 L965.95 199.62 L966.39 199.26 L966.83 198.90 L967.27 198.53 L967.70 198.17 L968.14 197.81 L968.58 197.44 L969.03 197.08 L969.46 196.72 L969.90 196.36 L970.34 195.99 L970.78 195.63 L971.22 195.27 L971.66 194.90 L972.10 194.54 L972.54 194.18 L972.98 193.82 L973.42 193.45 L973.86 193.09 L974.29 192.73 L974.73 192.37 L975.17 192.00 L975.61 191.64 L976.05 191.28 L976.49 190.91 L976.93 190.55 L977.37 190.19 L977.81 189.82 L978.25 189.46 L978.69 189.09 L979.13 188.73 L979.56 188.37 L980.00 188.01 L980.44 187.65 L980.88 187.28 L981.32 186.92 L981.50 186.77 L982.27 186.13" stroke="#D95319"/>
<path d="M217.59 405.70 L222.17 468.34 L226.53 501.64 L230.71 523.43 L234.72 539.11 L238.58 551.01 L242.29 560.36 L245.86 567.91 L249.31 574.10 L252.64 579.26 L255.86 583.60 L258.98 587.29 L262.00 590.44 L264.93 593.15 L267.78 595.48 L270.55 597.50 L273.24 599.26 L275.86 600.78 L278.41 602.10 L280.90 603.25 L283.33 604.25 L285.70 605.11 L288.01 605.86 L290.27 606.50 L292.47 607.05 L294.63 607.51 L296.75 607.90 L298.81 608.22 L300.84 608.48 L302.82 608.69 L304.77 608.85 L306.68 608.96 L308.55 609.03 L310.39 609.07 L312.19 609.07 L313.96 609.04 L315.70 608.98 L317.41 608.90 L319.09 608.79 L320.74 608.67 L322.36 608.52 L323.96 608.35 L325.53 608.17 L327.08 607.97 L328.60 607.76 L330.10 607.54 L331.58 607.30 L333.03 607.05 L334.47 606.79 L335.88 606.53 L337.28 606.25 L338.65 605.97 L340.01 605.68 L341.34 605.38 L342.66 605.07 L343.96 604.76 L345.25 604.45 L346.51 604.13 L347.77 603.81 L349.00 603.48 L350.22 603.15 L351.43 602.81 L352.62 602.47 L353.80 602.13 L354.96 601.79 L356.11 601.45 L357.24 601.10 L358.37 600.75 L359.48 600.40 L360.57 600.05 L361.66 599.69 L362.73 599.34 L363.80 598.98 L364.85 598.62 L365.89 598.27 L366.91 597.91 L367.93 597.55 L368.94 597.19 L369.94 596.83 L370.93 596.47 L371.90 596.11 L372.87 595.75 L373.83 595.39 L374.78 595.03 L375.72 594.68 L376.65 594.32 L377.57 593.96 L378.49 593.60 L379.39 593.24 L380.29 592.89 L381.18 592.53 L382.06 592.17 L382.93 591.82 L383.80 591.46 L384.66 591.11 L385.51 590.75 L386.35 590.40 L387.19 590.05 L388.02 589.70 L388.84 589.35 L389.65 589.00 L390.46 588.65 L391.26 588.30 L392.06 587.96 L392.85 587.61 L393.63 587.26 L394.41 586.92 L395.18 586.58 L395.94 586.24 L396.70 585.89 L397.46 585.55 L398.20 585.22 L398.94 584.88 L399.68 584.54 L400.41 584.20 L401.14 583.87 L401.86 583.54 L402.57 583.20 L403.28 582.87 L403.98 582.54 L404.68 582.21 L405.38 581.88 L406.07 581.56 L406.75 581.23 L407.43 580.90 L408.11 580.58 L408.78 580.26 L409.44 579.93 L410.10 579.61 L410.76 579.29 L411.41 578.98 L412.06 578.66 L412.71 578.34 L413.35 578.03 L413.98 577.71 L414.62 577.40 L415.24 577.09 L415.87 576.77 L416.49 576.46 L417.10 576.15 L417.71 575.85 L418.32 575.54 L418.93 575.23 L419.53 574.93 L420.13 574.63 L420.72 574.32 L421.31 574.02 L421.90 573.72 L422.48 573.42 L423.06 573.12 L423.64 572.82 L424.21 572.53 L424.78 572.23 L425.34 571.94 L425.91 571.64 L426.47 571.35 L427.02 571.06 L427.58 570.77 L428.13 570.48 L428.67 570.19 L429.22 569.91 L429.76 569.62 L430.30 569.33 L430.83 569.05 L431.37 568.77 L431.90 568.48 L432.42 568.20 L432.95 567.92 L433.47 567.64 L434.50 567.08 L435.53 566.53 L436.54 565.98 L437.54 565.44 L438.53 564.89 L439.52 564.36 L440.49 563.82 L441.45 563.29 L442.41 562.76 L443.35 562.24 L444.29 561.72 L445.21 561.20 L446.13 560.69 L447.04 560.18 L447.94 559.67 L448.84 559.16 L449.72 558.66 L450.60 558.17 L451.47 557.67 L452.33 557.18 L453.18 556.69 L454.03 556.20 L454.87 555.72 L455.70 555.24 L456.53 554.77 L457.35 554.29 L458.16 553.82 L458.96 553.35 L459.76 552.89 L460.56 552.42 L461.34 551.96 L462.12 551.51 L462.90 551.05 L463.66 550.60 L464.42 550.15 L465.18 549.71 L465.93 549.26 L466.67 548.82 L467.41 548.38 L468.15 547.94 L468.87 547.51 L469.60 547.08 L470.31 546.65 L471.03 546.22 L471.73 545.80 L472.43 545.38 L473.13 544.96 L473.82 544.54 L474.51 544.12 L475.19 543.71 L475.87 543.30 L476.54 542.89 L477.21 542.48 L477.87 542.08 L478.53 541.68 L479.19 541.28 L479.84 540.88 L480.49 540.48 L481.13 540.09 L481.77 539.70 L482.40 539.31 L483.03 538.92 L483.66 538.53 L484.28 538.15 L484.90 537.77 L485.51 537.39 L486.12 537.01 L486.73 536.63 L487.33 536.26 L487.93 535.88 L488.52 535.51 L489.12 535.14 L489.70 534.78 L490.29 534.41 L490.87 534.05 L491.45 533.68 L492.02 533.32 L492.59 532.96 L493.16 532.61 L493.73 532.25 L494.29 531.90 L494.85 531.55 L495.40 531.19 L495.95 530.85 L496.50 530.50 L497.05 530.15 L497.59 529.81 L498.13 529.47 L498.67 529.12 L499.20 528.78 L499.73 528.45 L500.26 528.11 L500.79 527.77 L501.31 527.44 L501.83 527.11 L502.35 526.78 L502.86 526.45 L503.37 526.12 L503.88 525.79 L504.39 525.47 L504.89 525.14 L505.39 524.82 L505.89 524.50 L506.39 524.18 L506.88 523.86 L507.37 523.55 L507.86 523.23 L508.35 522.92 L509.07 522.45 L509.79 521.98 L510.51 521.52 L511.22 521.06 L511.92 520.60 L512.62 520.14 L513.31 519.69 L514.00 519.24 L514.69 518.79 L515.37 518.35 L516.04 517.91 L516.71 517.47 L517.38 517.03 L518.04 516.60 L518.70 516.16 L519.35 515.73 L520.00 515.31 L520.64 514.88 L521.28 514.46 L521.92 514.04 L522.55 513.62 L523.18 513.21 L523.80 512.79 L524.42 512.38 L525.04 511.97 L525.65 511.57 L526.26 511.16 L526.86 510.76 L527.47 510.36 L528.06 509.96 L528.66 509.56 L529.25 509.17 L529.83 508.78 L530.42 508.39 L531.00 508.00 L531.57 507.61 L532.14 507.23 L532.71 506.85 L533.28 506.47 L533.84 506.09 L534.40 505.71 L534.96 505.34 L535.51 504.96 L536.06 504.59 L536.61 504.22 L537.16 503.86 L537.70 503.49 L538.24 503.13 L538.77 502.76 L539.30 502.40 L539.83 502.05 L540.36 501.69 L540.88 501.33 L541.40 500.98 L541.92 500.63 L542.44 500.28 L542.95 499.93 L543.46 499.58 L543.97 499.23 L544.48 498.89 L544.98 498.55 L545.48 498.20 L545.98 497.86 L546.47 497.53 L546.96 497.19 L547.45 496.85 L547.94 496.52 L548.43 496.19 L548.91 495.86 L549.39 495.53 L549.87 495.20 L550.34 494.87 L550.97 494.44 L551.60 494.01 L552.22 493.58 L552.84 493.15 L553.46 492.73 L554.07 492.31 L554.68 491.89 L555.28 491.47 L555.88 491.06 L556.48 490.64 L557.07 490.23 L557.66 489.83 L558.24 489.42 L558.83 489.02 L559.40 488.61 L559.98 488.21 L560.55 487.82 L561.12 487.42 L561.69 487.03 L562.25 486.64 L562.81 486.25 L563.36 485.86 L563.92 485.47 L564.47 485.09 L565.01 484.71 L565.56 484.33 L566.10 483.95 L566.63 483.57 L567.17 483.20 L567.70 482.83 L568.23 482.46 L568.76 482.09 L569.28 481.72 L569.80 481.35 L570.32 480.99 L570.83 480.63 L571.34 480.27 L571.85 479.91 L572.36 479.55 L572.87 479.20 L573.37 478.84 L573.87 478.49 L574.36 478.14 L574.86 477.79 L575.35 477.44 L575.84 477.10 L576.33 476.75 L576.81 476.41 L577.29 476.07 L577.77 475.73 L578.25 475.39 L578.73 475.06 L579.20 474.72 L579.67 474.39 L580.14 474.05 L580.72 473.64 L581.30 473.23 L581.87 472.82 L582.45 472.41 L583.02 472.01 L583.58 471.60 L584.14 471.20 L584.70 470.81 L585.26 470.41 L585.81 470.01 L586.36 469.62 L586.91 469.23 L587.45 468.84 L587.99 468.46 L588.53 468.07 L589.07 467.69 L589.60 467.31 L590.13 466.93 L590.65 466.55 L591.18 466.18 L591.70 465.80 L592.21 465.43 L592.73 465.06 L593.24 464.69 L593.75 464.32 L594.26 463.96 L594.76 463.60 L595.27 463.24 L595.77 462.88 L596.26 462.52 L596.76 462.16 L597.25 461.81 L597.74 461.45 L598.23 461.10 L598.71 460.75 L599.19 460.40 L599.67 460.06 L600.15 459.71 L600.63 459.37 L601.10 459.02 L601.57 458.68 L602.04 458.34 L602.50 458.01 L602.97 457.67 L603.52 457.27 L604.07 456.87 L604.62 456.47 L605.17 456.07 L605.71 455.68 L606.25 455.29 L606.78 454.90 L607.32 454.51 L607.85 454.13 L608.37 453.74 L608.90 453.36 L609.42 452.98 L609.94 452.60 L610.45 452.22 L610.97 451.85 L611.48 451.48 L611.99 451.11 L612.49 450.74 L612.99 450.37 L613.50 450.00 L613.99 449.64 L614.49 449.28 L614.98 448.91 L615.47 448.56 L615.96 448.20 L616.45 447.84 L616.93 447.49 L617.41 447.13 L617.89 446.78 L618.36 446.43 L618.84 446.09 L619.31 445.74 L619.78 445.39 L620.25 445.05 L620.71 444.71 L621.17 444.37 L621.71 443.97 L622.24 443.58 L622.78 443.19 L623.30 442.80 L623.83 442.41 L624.35 442.03 L624.87 441.64 L625.39 441.26 L625.90 440.88 L626.42 440.50 L626.93 440.13 L627.43 439.75 L627.94 439.38 L628.44 439.01 L628.94 438.64 L629.43 438.27 L629.93 437.90 L630.42 437.54 L630.91 437.18 L631.39 436.82 L631.88 436.46 L632.36 436.10 L632.84 435.74 L633.32 435.39 L633.79 435.04 L634.26 434.69 L634.73 434.34 L635.20 433.99 L635.67 433.64 L636.13 433.30 L636.59 432.95 L637.05 432.61 L637.57 432.22 L638.09 431.84 L638.61 431.45 L639.12 431.07 L639.64 430.69 L640.14 430.31 L640.65 429.93 L641.15 429.55 L641.66 429.18 L642.15 428.81 L642.65 428.43 L643.14 428.07 L643.63 427.70 L644.12 427.33 L644.61 426.97 L645.09 426.61 L645.57 426.25 L646.05 425.89 L646.53 425.53 L647.00 425.17 L647.48 424.82 L647.95 424.47 L648.41 424.12 L648.88 423.77 L649.34 423.42 L649.80 423.07 L650.26 422.73 L650.78 422.34 L651.29 421.96 L651.79 421.58 L652.30 421.20 L652.80 420.82 L653.30 420.44 L653.80 420.07 L654.30 419.69 L654.79 419.32 L655.28 418.95 L655.77 418.58 L656.25 418.22 L656.74 417.85 L657.22 417.49 L657.70 417.13 L658.17 416.77 L658.65 416.41 L659.12 416.05 L659.59 415.70 L660.06 415.34 L660.52 414.99 L660.98 414.64 L661.44 414.29 L661.90 413.95 L662.36 413.60 L662.86 413.22 L663.37 412.84 L663.87 412.46 L664.36 412.08 L664.86 411.71 L665.35 411.33 L665.84 410.96 L666.33 410.59 L666.81 410.23 L667.29 409.86 L667.77 409.49 L668.25 409.13 L668.73 408.77 L669.20 408.41 L669.67 408.05 L670.14 407.70 L670.60 407.34 L671.07 406.99 L671.53 406.64 L671.99 406.29 L672.45 405.94 L672.90 405.59 L673.40 405.21 L673.90 404.83 L674.39 404.45 L674.88 404.08 L675.37 403.71 L675.86 403.34 L676.34 402.97 L676.82 402.60 L677.30 402.23 L677.78 401.87 L678.25 401.51 L678.73 401.14 L679.20 400.78 L679.66 400.43 L680.13 400.07 L680.59 399.72 L681.05 399.36 L681.51 399.01 L681.97 398.66 L682.42 398.31 L682.92 397.93 L683.41 397.56 L683.90 397.18 L684.38 396.81 L684.87 396.44 L685.35 396.07 L685.83 395.70 L686.31 395.33 L686.78 394.97 L687.25 394.61 L687.72 394.24 L688.19 393.89 L688.66 393.53 L689.12 393.17 L689.58 392.82 L690.04 392.46 L690.50 392.11 L690.95 391.76 L691.41 391.41 L691.89 391.04 L692.38 390.66 L692.86 390.29 L693.34 389.92 L693.82 389.55 L694.30 389.18 L694.77 388.82 L695.24 388.45 L695.71 388.09 L696.18 387.73 L696.65 387.37 L697.11 387.01 L697.57 386.66 L698.03 386.30 L698.48 385.95 L698.94 385.60 L699.39 385.25 L699.88 384.87 L700.36 384.50 L700.84 384.13 L701.32 383.76 L701.79 383.39 L702.26 383.02 L702.73 382.66 L703.20 382.30 L703.67 381.93 L704.13 381.57 L704.59 381.22 L705.05 380.86 L705.51 380.50 L705.97 380.15 L706.42 379.80 L706.87 379.45 L707.35 379.08 L707.83 378.70 L708.31 378.33 L708.78 377.96 L709.26 377.60 L709.72 377.23 L710.19 376.87 L710.66 376.51 L711.12 376.15 L711.58 375.79 L712.04 375.43 L712.50 375.08 L712.95 374.72 L713.40 374.37 L713.85 374.02 L714.33 373.65 L714.81 373.27 L715.28 372.91 L715.75 372.54 L716.22 372.17 L716.69 371.81 L717.15 371.45 L717.62 371.09 L718.08 370.73 L718.53 370.37 L718.99 370.01 L719.44 369.66 L719.89 369.30 L720.34 368.95 L720.82 368.58 L721.29 368.21 L721.76 367.84 L722.23 367.48 L722.70 367.11 L723.16 366.75 L723.63 366.39 L724.09 366.03 L724.54 365.67 L725.00 365.31 L725.45 364.96 L725.90 364.60 L726.35 364.25 L726.83 363.88 L727.30 363.51 L727.77 363.14 L728.23 362.77 L728.70 362.41 L729.16 362.05 L729.62 361.69 L730.08 361.33 L730.54 360.97 L730.99 360.61 L731.44 360.26 L731.89 359.90 L732.36 359.53 L732.83 359.16 L733.30 358.79 L733.77 358.43 L734.23 358.06 L734.69 357.70 L735.15 357.34 L735.61 356.98 L736.06 356.62 L736.52 356.26 L736.97 355.91 L737.42 355.56 L737.89 355.19 L738.36 354.82 L738.82 354.45 L739.28 354.08 L739.75 353.72 L740.21 353.36 L740.66 353.00 L741.12 352.64 L741.57 352.28 L742.02 351.93 L742.47 351.57 L742.94 351.20 L743.41 350.83 L743.87 350.47 L744.33 350.10 L744.79 349.74 L745.25 349.38 L745.71 349.01 L746.16 348.66 L746.61 348.30 L747.06 347.94 L747.51 347.59 L747.98 347.22 L748.44 346.85 L748.90 346.49 L749.36 346.12 L749.82 345.76 L750.28 345.40 L750.73 345.04 L751.18 344.68 L751.63 344.32 L752.08 343.97 L752.55 343.60 L753.01 343.23 L753.47 342.87 L753.93 342.50 L754.39 342.14 L754.84 341.78 L755.29 341.42 L755.75 341.06 L756.19 340.71 L756.64 340.35 L757.10 339.98 L757.57 339.62 L758.03 339.25 L758.48 338.89 L758.94 338.52 L759.39 338.16 L759.84 337.81 L760.29 337.45 L760.74 337.09 L761.20 336.72 L761.66 336.36 L762.12 335.99 L762.58 335.63 L763.04 335.27 L763.49 334.90 L763.94 334.55 L764.39 334.19 L764.84 333.83 L765.30 333.46 L765.76 333.10 L766.22 332.73 L766.67 332.37 L767.13 332.01 L767.58 331.65 L768.03 331.29 L768.48 330.93 L768.92 330.57 L769.38 330.21 L769.84 329.84 L770.30 329.48 L770.75 329.11 L771.20 328.75 L771.65 328.39 L772.10 328.03 L772.55 327.68 L773.01 327.31 L773.47 326.94 L773.92 326.58 L774.38 326.22 L774.83 325.85 L775.28 325.50 L775.73 325.14 L776.17 324.78 L776.63 324.41 L777.09 324.05 L777.54 323.68 L778.00 323.32 L778.45 322.96 L778.90 322.60 L779.34 322.24 L779.79 321.88 L780.25 321.52 L780.70 321.15 L781.16 320.79 L781.61 320.42 L782.06 320.06 L782.51 319.70 L782.95 319.35 L783.41 318.98 L783.87 318.61 L784.32 318.25 L784.77 317.88 L785.22 317.52 L785.67 317.16 L786.12 316.81 L786.56 316.45 L787.02 316.08 L787.47 315.72 L787.92 315.35 L788.37 314.99 L788.82 314.63 L789.27 314.27 L789.71 313.92 L790.17 313.55 L790.62 313.19 L791.07 312.82 L791.52 312.46 L791.97 312.10 L792.42 311.74 L792.86 311.39 L793.31 311.02 L793.77 310.65 L794.22 310.29 L794.66 309.93 L795.11 309.57 L795.56 309.21 L796.01 308.85 L796.46 308.48 L796.92 308.12 L797.36 307.75 L797.81 307.39 L798.26 307.04 L798.70 306.68 L799.15 306.31 L799.60 305.95 L800.05 305.58 L800.50 305.22 L800.95 304.86 L801.39 304.51 L801.84 304.14 L802.30 303.77 L802.75 303.41 L803.19 303.05 L803.64 302.69 L804.08 302.33 L804.53 301.97 L804.99 301.60 L805.44 301.24 L805.88 300.88 L806.33 300.52 L806.77 300.16 L807.22 299.79 L807.67 299.43 L808.12 299.06 L808.57 298.70 L809.01 298.34 L809.46 297.98 L809.91 297.62 L810.36 297.25 L810.80 296.89 L811.25 296.53 L811.69 296.17 L812.15 295.80 L812.60 295.44 L813.05 295.08 L813.49 294.71 L813.94 294.35 L814.38 293.99 L814.83 293.63 L815.28 293.26 L815.73 292.90 L816.17 292.54 L816.61 292.18 L817.07 291.81 L817.52 291.45 L817.96 291.09 L818.41 290.73 L818.85 290.37 L819.30 290.00 L819.75 289.63 L820.20 289.27 L820.65 288.91 L821.09 288.55 L821.53 288.19 L821.98 287.82 L822.43 287.46 L822.87 287.10 L823.32 286.74 L823.76 286.38 L824.21 286.01 L824.65 285.65 L825.10 285.29 L825.54 284.93 L825.98 284.57 L826.43 284.20 L826.88 283.84 L827.32 283.48 L827.77 283.12 L828.22 282.75 L828.66 282.38 L829.11 282.02 L829.55 281.66 L830.00 281.30 L830.44 280.93 L830.89 280.57 L831.34 280.21 L831.78 279.84 L832.22 279.49 L832.67 279.12 L833.11 278.76 L833.56 278.39 L834.00 278.03 L834.45 277.67 L834.90 277.30 L835.34 276.94 L835.78 276.58 L836.22 276.22 L836.67 275.85 L837.12 275.49 L837.56 275.13 L838.00 274.77 L838.45 274.40 L838.89 274.04 L839.34 273.67 L839.78 273.31 L840.23 272.95 L840.67 272.58 L841.12 272.22 L841.56 271.86 L842.01 271.49 L842.45 271.13 L842.90 270.76 L843.34 270.40 L843.78 270.04 L844.22 269.68 L844.67 269.31 L845.11 268.95 L845.55 268.59 L846.00 268.23 L846.44 267.86 L846.88 267.50 L847.32 267.14 L847.77 266.78 L848.21 266.41 L848.65 266.05 L849.10 265.68 L849.54 265.32 L849.99 264.96 L850.43 264.59 L850.88 264.23 L851.32 263.86 L851.76 263.50 L852.20 263.14 L852.65 262.77 L853.09 262.41 L853.53 262.05 L853.97 261.69 L854.42 261.32 L854.86 260.96 L855.30 260.59 L855.75 260.23 L856.19 259.86 L856.64 259.50 L857.08 259.14 L857.52 258.77 L857.97 258.41 L858.41 258.05 L858.85 257.69 L859.29 257.32 L859.73 256.96 L860.17 256.59 L860.62 256.23 L861.06 255.86 L861.50 255.50 L861.95 255.14 L862.39 254.77 L862.83 254.41 L863.27 254.05 L863.71 253.68 L864.16 253.32 L864.60 252.95 L865.04 252.59 L865.48 252.22 L865.92 251.86 L866.37 251.49 L866.81 251.13 L867.25 250.77 L867.69 250.40 L868.14 250.04 L868.58 249.68 L869.02 249.31 L869.46 248.95 L869.90 248.58 L870.34 248.22 L870.79 247.86 L871.23 247.49 L871.67 247.13 L872.11 246.76 L872.55 246.40 L872.99 246.04 L873.44 245.67 L873.88 245.31 L874.32 244.94 L874.76 244.58 L875.20 244.21 L875.64 243.85 L876.09 243.48 L876.53 243.12 L876.97 242.76 L877.41 242.39 L877.85 242.02 L878.29 241.66 L878.73 241.30 L879.17 240.93 L879.61 240.57 L880.05 240.20 L880.49 239.84 L880.93 239.48 L881.38 239.11 L881.82 238.75 L882.25 238.39 L882.69 238.02 L883.13 237.66 L883.58 237.29 L884.02 236.93 L884.46 236.56 L884.90 236.20 L885.34 235.83 L885.78 235.47 L886.22 235.10 L886.66 234.74 L887.10 234.37 L887.54 234.01 L887.98 233.64 L888.42 233.28 L888.86 232.91 L889.30 232.55 L889.74 232.19 L890.18 231.82 L890.62 231.46 L891.06 231.09 L891.50 230.73 L891.94 230.36 L892.38 230.00 L892.82 229.63 L893.26 229.27 L893.70 228.90 L894.14 228.54 L894.58 228.17 L895.02 227.81 L895.46 227.44 L895.90 227.08 L896.34 226.71 L896.78 226.35 L897.22 225.98 L897.66 225.62 L898.10 225.26 L898.54 224.89 L898.97 224.53 L899.41 224.16 L899.85 223.80 L900.29 223.43 L900.73 223.07 L901.17 222.70 L901.61 222.34 L902.05 221.97 L902.49 221.61 L902.93 221.24 L903.37 220.88 L903.80 220.51 L904.25 220.15 L904.68 219.78 L905.12 219.42 L905.56 219.05 L906.00 218.69 L906.44 218.32 L906.88 217.96 L907.32 217.59 L907.75 217.23 L908.19 216.86 L908.63 216.50 L909.07 216.13 L909.51 215.76 L909.95 215.40 L910.39 215.03 L910.83 214.67 L911.27 214.30 L911.70 213.94 L912.14 213.57 L912.58 213.21 L913.02 212.84 L913.45 212.48 L913.89 212.11 L914.33 211.75 L914.77 211.38 L915.21 211.02 L915.65 210.65 L916.08 210.29 L916.52 209.92 L916.96 209.56 L917.40 209.19 L917.83 208.83 L918.27 208.46 L918.71 208.10 L919.15 207.73 L919.58 207.37 L920.02 207.00 L920.46 206.64 L920.90 206.27 L921.33 205.91 L921.77 205.54 L922.21 205.17 L922.65 204.81 L923.09 204.44 L923.53 204.08 L923.96 203.71 L924.40 203.35 L924.84 202.98 L925.27 202.62 L925.71 202.25 L926.15 201.89 L926.59 201.52 L927.02 201.15 L927.46 200.79 L927.90 200.42 L928.34 200.06 L928.77 199.69 L929.21 199.33 L929.65 198.96 L930.09 198.59 L930.52 198.23 L930.96 197.86 L931.40 197.50 L931.83 197.13 L932.27 196.76 L932.71 196.40 L933.15 196.03 L933.58 195.67 L934.02 195.30 L934.45 194.94 L934.89 194.57 L935.33 194.20 L935.77 193.84 L936.20 193.47 L936.64 193.11 L937.08 192.74 L937.51 192.37 L937.95 192.01 L938.39 191.64 L938.83 191.28 L939.26 190.91 L939.70 190.54 L940.14 190.18 L940.57 189.81 L941.01 189.44 L941.44 189.08 L941.88 188.71 L942.32 188.35 L942.75 187.98 L943.19 187.62 L943.63 187.25 L944.06 186.88 L944.50 186.52 L944.94 186.15 L945.37 185.79 L945.81 185.42 L946.24 185.05 L946.68 184.69 L947.11 184.32 L947.55 183.95 L947.99 183.59 L948.42 183.22 L948.86 182.86 L949.30 182.49 L949.73 182.12 L950.17 181.76 L950.60 181.39 L951.04 181.02 L951.48 180.66 L951.91 180.29 L952.35 179.92 L952.78 179.56 L953.22 179.19 L953.66 178.82 L954.09 178.46 L954.53 178.09 L954.96 177.73 L955.40 177.36 L955.83 176.99 L956.27 176.63 L956.71 176.26 L957.14 175.89 L957.58 175.53 L958.01 175.16 L958.45 174.79 L958.88 174.43 L959.32 174.06 L959.75 173.70 L960.19 173.33 L960.62 172.96 L961.06 172.59 L961.50 172.23 L961.93 171.86 L962.37 171.50 L962.80 171.13 L963.24 170.76 L963.67 170.39 L964.11 170.03 L964.54 169.66 L964.98 169.29 L965.41 168.93 L965.85 168.56 L966.28 168.19 L966.72 167.83 L967.15 167.46 L967.59 167.09 L968.03 166.73 L968.46 166.36 L968.89 165.99 L969.33 165.63 L969.76 165.26 L970.20 164.89 L970.63 164.53 L971.07 164.16 L971.51 163.79 L971.94 163.42 L972.37 163.06 L972.81 162.69 L973.24 162.32 L973.68 161.96 L974.11 161.59 L974.55 161.22 L974.99 160.85 L975.42 160.49 L975.85 160.12 L976.29 159.75 L976.72 159.39 L977.16 159.02 L977.59 158.65 L978.03 158.28 L978.46 157.92 L978.90 157.55 L979.33 157.18 L979.77 156.81 L980.20 156.45 L980.64 156.08 L981.07 155.71 L981.50 155.35 L982.26 154.70" stroke="#EDB120"/>
<path d="M184.54 303.95 L190.88 462.27 L196.83 511.00 L202.45 538.34 L207.76 556.36 L212.80 569.23 L217.59 578.86 L222.17 586.30 L226.53 592.18 L230.71 596.89 L234.72 600.71 L238.58 603.84 L242.29 606.42 L245.86 608.54 L249.31 610.30 L252.64 611.75 L255.86 612.94 L258.98 613.92 L262.00 614.72 L264.93 615.35 L267.78 615.85 L270.55 616.23 L273.24 616.51 L275.86 616.70 L278.41 616.82 L280.90 616.86 L283.33 616.84 L285.70 616.77 L288.01 616.66 L290.27 616.50 L292.47 616.30 L294.63 616.07 L296.75 615.81 L298.81 615.52 L300.84 615.21 L302.82 614.88 L304.77 614.53 L306.68 614.17 L308.55 613.79 L310.39 613.39 L312.19 612.98 L313.96 612.56 L315.70 612.14 L317.41 611.70 L319.09 611.26 L320.74 610.81 L322.36 610.35 L323.96 609.89 L325.53 609.42 L327.08 608.95 L328.60 608.48 L330.10 608.00 L331.58 607.52 L333.03 607.04 L334.47 606.56 L335.88 606.07 L337.28 605.59 L338.65 605.10 L340.01 604.61 L341.34 604.12 L342.66 603.64 L343.96 603.15 L345.25 602.66 L346.51 602.17 L347.77 601.69 L349.00 601.20 L350.22 600.72 L351.43 600.23 L352.62 599.75 L353.80 599.27 L354.96 598.79 L356.11 598.31 L357.24 597.83 L358.37 597.36 L359.48 596.88 L360.57 596.41 L361.66 595.94 L362.73 595.47 L363.80 595.00 L364.85 594.53 L365.89 594.07 L366.91 593.61 L367.93 593.15 L368.94 592.69 L369.94 592.23 L370.93 591.78 L371.90 591.32 L372.87 590.87 L373.83 590.42 L374.78 589.97 L375.72 589.53 L376.65 589.09 L377.57 588.64 L378.49 588.21 L379.39 587.77 L380.29 587.33 L381.18 586.90 L382.06 586.47 L382.93 586.04 L383.80 585.61 L384.66 585.19 L385.51 584.76 L386.35 584.34 L387.19 583.92 L388.02 583.50 L388.84 583.09 L389.65 582.68 L390.46 582.26 L391.26 581.85 L392.06 581.45 L392.85 581.04 L393.63 580.64 L394.41 580.23 L395.18 579.83 L395.94 579.44 L396.70 579.04 L397.46 578.65 L398.20 578.25 L398.94 577.86 L399.68 577.47 L400.41 577.08 L401.14 576.70 L401.86 576.32 L402.57 575.93 L403.28 575.55 L403.98 575.17 L404.68 574.80 L405.38 574.42 L406.07 574.05 L406.75 573.68 L407.43 573.31 L408.11 572.94 L408.78 572.57 L409.44 572.21 L410.10 571.85 L410.76 571.48 L411.41 571.12 L412.06 570.77 L412.71 570.41 L413.35 570.05 L413.98 569.70 L414.62 569.35 L415.24 569.00 L415.87 568.65 L416.49 568.30 L417.10 567.95 L417.71 567.61 L418.32 567.27 L418.93 566.92 L419.53 566.58 L420.13 566.25 L420.72 565.91 L421.31 565.57 L421.90 565.24 L422.48 564.91 L423.06 564.57 L423.64 564.24 L424.21 563.92 L424.78 563.59 L425.34 563.26 L425.91 562.94 L426.47 562.61 L427.02 562.29 L427.58 561.97 L428.13 561.65 L428.67 561.33 L429.22 561.02 L429.76 560.70 L430.30 560.39 L430.83 560.08 L431.37 559.76 L431.90 559.45 L432.42 559.14 L432.95 558.84 L433.47 558.53 L433.99 558.22 L434.50 557.92 L435.02 557.62 L435.53 557.31 L436.03 557.01 L436.54 556.71 L437.04 556.42 L438.04 555.82 L439.03 555.23 L440.00 554.65 L440.97 554.07 L441.93 553.49 L442.88 552.92 L443.82 552.35 L444.75 551.79 L445.67 551.23 L446.59 550.68 L447.49 550.13 L448.39 549.58 L449.28 549.04 L450.16 548.50 L451.03 547.96 L451.90 547.43 L452.76 546.90 L453.61 546.38 L454.45 545.86 L455.29 545.34 L456.12 544.82 L456.94 544.31 L457.75 543.81 L458.56 543.30 L459.36 542.80 L460.16 542.30 L460.95 541.81 L461.73 541.32 L462.51 540.83 L463.28 540.35 L464.04 539.87 L464.80 539.39 L465.56 538.91 L466.30 538.44 L467.04 537.97 L467.78 537.50 L468.51 537.04 L469.24 536.58 L469.96 536.12 L470.67 535.66 L471.38 535.21 L472.08 534.76 L472.78 534.31 L473.48 533.87 L474.17 533.43 L474.85 532.99 L475.53 532.55 L476.21 532.11 L476.88 531.68 L477.54 531.25 L478.21 530.82 L478.86 530.40 L479.52 529.98 L480.16 529.55 L480.81 529.14 L481.45 528.72 L482.08 528.31 L482.72 527.90 L483.34 527.49 L483.97 527.08 L484.59 526.67 L485.20 526.27 L485.82 525.87 L486.42 525.47 L487.03 525.08 L487.63 524.68 L488.23 524.29 L488.82 523.90 L489.41 523.51 L490.00 523.12 L490.58 522.74 L491.16 522.36 L491.74 521.98 L492.31 521.60 L492.88 521.22 L493.44 520.85 L494.01 520.47 L494.57 520.10 L495.12 519.73 L495.68 519.37 L496.23 519.00 L496.78 518.64 L497.32 518.27 L497.86 517.91 L498.40 517.55 L498.93 517.20 L499.47 516.84 L500.00 516.49 L500.52 516.13 L501.05 515.78 L501.57 515.43 L502.09 515.09 L502.60 514.74 L503.12 514.39 L503.63 514.05 L504.13 513.71 L504.64 513.37 L505.14 513.03 L505.64 512.70 L506.14 512.36 L506.63 512.03 L507.13 511.69 L507.62 511.36 L508.10 511.03 L508.59 510.70 L509.07 510.38 L509.55 510.05 L510.03 509.73 L510.74 509.24 L511.45 508.76 L512.15 508.29 L512.85 507.81 L513.54 507.34 L514.23 506.87 L514.91 506.41 L515.59 505.94 L516.27 505.48 L516.94 505.03 L517.60 504.57 L518.26 504.12 L518.92 503.67 L519.57 503.22 L520.22 502.78 L520.86 502.34 L521.50 501.90 L522.13 501.46 L522.76 501.03 L523.39 500.59 L524.01 500.16 L524.63 499.74 L525.24 499.31 L525.85 498.89 L526.46 498.47 L527.07 498.05 L527.66 497.64 L528.26 497.22 L528.85 496.81 L529.44 496.41 L530.03 496.00 L530.61 495.59 L531.19 495.19 L531.76 494.79 L532.33 494.39 L532.90 494.00 L533.47 493.60 L534.03 493.21 L534.59 492.82 L535.14 492.43 L535.70 492.05 L536.25 491.66 L536.79 491.28 L537.34 490.90 L537.88 490.52 L538.41 490.14 L538.95 489.77 L539.48 489.40 L540.01 489.02 L540.53 488.66 L541.06 488.29 L541.58 487.92 L542.10 487.56 L542.61 487.19 L543.12 486.83 L543.63 486.47 L544.14 486.12 L544.64 485.76 L545.14 485.41 L545.64 485.05 L546.14 484.70 L546.63 484.35 L547.13 484.01 L547.62 483.66 L548.10 483.32 L548.59 482.97 L549.07 482.63 L549.55 482.29 L550.03 481.95 L550.50 481.61 L550.97 481.28 L551.44 480.94 L551.91 480.61 L552.53 480.17 L553.15 479.73 L553.76 479.29 L554.37 478.86 L554.98 478.43 L555.58 478.00 L556.18 477.57 L556.77 477.15 L557.36 476.72 L557.95 476.30 L558.53 475.89 L559.12 475.47 L559.69 475.06 L560.27 474.65 L560.84 474.24 L561.40 473.83 L561.97 473.43 L562.53 473.02 L563.09 472.62 L563.64 472.22 L564.19 471.83 L564.74 471.43 L565.28 471.04 L565.83 470.65 L566.37 470.26 L566.90 469.88 L567.43 469.49 L567.96 469.11 L568.49 468.73 L569.02 468.35 L569.54 467.97 L570.06 467.60 L570.57 467.22 L571.09 466.85 L571.60 466.48 L572.11 466.11 L572.61 465.75 L573.12 465.38 L573.62 465.02 L574.12 464.66 L574.61 464.30 L575.10 463.94 L575.59 463.58 L576.08 463.23 L576.57 462.87 L577.05 462.52 L577.53 462.17 L578.01 461.82 L578.49 461.48 L578.96 461.13 L579.43 460.79 L579.90 460.44 L580.37 460.10 L580.84 459.76 L581.30 459.43 L581.87 459.01 L582.45 458.59 L583.02 458.17 L583.58 457.76 L584.14 457.35 L584.70 456.94 L585.26 456.53 L585.81 456.13 L586.36 455.72 L586.91 455.32 L587.45 454.92 L587.99 454.53 L588.53 454.13 L589.07 453.74 L589.60 453.35 L590.13 452.96 L590.65 452.57 L591.18 452.19 L591.70 451.80 L592.21 451.42 L592.73 451.04 L593.24 450.66 L593.75 450.29 L594.26 449.91 L594.76 449.54 L595.27 449.17 L595.77 448.80 L596.26 448.44 L596.76 448.07 L597.25 447.71 L597.74 447.34 L598.23 446.98 L598.71 446.63 L599.19 446.27 L599.67 445.91 L600.15 445.56 L600.63 445.21 L601.10 444.86 L601.57 444.51 L602.04 444.16 L602.50 443.81 L602.97 443.47 L603.43 443.13 L603.89 442.78 L604.44 442.38 L604.98 441.97 L605.53 441.57 L606.07 441.16 L606.60 440.77 L607.14 440.37 L607.67 439.97 L608.20 439.58 L608.72 439.19 L609.25 438.80 L609.76 438.41 L610.28 438.02 L610.80 437.64 L611.31 437.26 L611.82 436.88 L612.32 436.50 L612.83 436.12 L613.33 435.75 L613.83 435.37 L614.32 435.00 L614.82 434.63 L615.31 434.26 L615.80 433.90 L616.28 433.53 L616.77 433.17 L617.25 432.81 L617.73 432.45 L618.21 432.09 L618.68 431.74 L619.15 431.38 L619.62 431.03 L620.09 430.68 L620.56 430.33 L621.02 429.98 L621.48 429.63 L621.94 429.29 L622.40 428.94 L622.93 428.54 L623.45 428.15 L623.98 427.75 L624.50 427.36 L625.02 426.97 L625.54 426.58 L626.05 426.19 L626.56 425.80 L627.07 425.42 L627.58 425.04 L628.08 424.66 L628.58 424.28 L629.08 423.90 L629.57 423.53 L630.07 423.16 L630.56 422.78 L631.05 422.42 L631.53 422.05 L632.02 421.68 L632.50 421.32 L632.98 420.95 L633.45 420.59 L633.93 420.23 L634.40 419.88 L634.87 419.52 L635.34 419.17 L635.80 418.81 L636.26 418.46 L636.72 418.11 L637.18 417.76 L637.64 417.42 L638.16 417.02 L638.68 416.63 L639.19 416.24 L639.70 415.85 L640.21 415.46 L640.71 415.08 L641.22 414.69 L641.72 414.31 L642.22 413.93 L642.71 413.56 L643.20 413.18 L643.70 412.81 L644.18 412.43 L644.67 412.06 L645.15 411.69 L645.63 411.33 L646.11 410.96 L646.59 410.60 L647.06 410.24 L647.53 409.88 L648.00 409.52 L648.47 409.16 L648.94 408.80 L649.40 408.45 L649.86 408.10 L650.32 407.75 L650.78 407.40 L651.23 407.05 L651.74 406.66 L652.24 406.27 L652.75 405.89 L653.25 405.50 L653.75 405.12 L654.24 404.74 L654.74 404.36 L655.23 403.98 L655.71 403.61 L656.20 403.24 L656.68 402.86 L657.17 402.49 L657.64 402.13 L658.12 401.76 L658.60 401.40 L659.07 401.03 L659.54 400.67 L660.00 400.31 L660.47 399.95 L660.93 399.60 L661.39 399.24 L661.85 398.89 L662.31 398.54 L662.76 398.19 L663.22 397.84 L663.72 397.45 L664.21 397.07 L664.71 396.69 L665.20 396.31 L665.69 395.93 L666.18 395.55 L666.67 395.18 L667.15 394.80 L667.63 394.43 L668.11 394.06 L668.58 393.69 L669.06 393.33 L669.53 392.96 L670.00 392.60 L670.46 392.24 L670.93 391.88 L671.39 391.52 L671.85 391.16 L672.31 390.81 L672.77 390.45 L673.22 390.10 L673.67 389.75 L674.17 389.37 L674.66 388.99 L675.15 388.61 L675.64 388.23 L676.12 387.85 L676.60 387.48 L677.08 387.11 L677.56 386.73 L678.04 386.36 L678.51 386.00 L678.98 385.63 L679.45 385.27 L679.92 384.90 L680.38 384.54 L680.84 384.18 L681.30 383.83 L681.76 383.47 L682.22 383.11 L682.67 382.76 L683.12 382.41 L683.61 382.03 L684.10 381.65 L684.59 381.27 L685.07 380.89 L685.55 380.52 L686.03 380.14 L686.50 379.77 L686.98 379.40 L687.45 379.04 L687.92 378.67 L688.39 378.31 L688.85 377.94 L689.31 377.58 L689.77 377.22 L690.23 376.86 L690.69 376.51 L691.14 376.15 L691.59 375.80 L692.04 375.45 L692.53 375.07 L693.01 374.69 L693.49 374.31 L693.97 373.94 L694.44 373.57 L694.92 373.20 L695.39 372.83 L695.86 372.46 L696.32 372.09 L696.79 371.73 L697.25 371.37 L697.71 371.01 L698.17 370.65 L698.62 370.29 L699.08 369.93 L699.53 369.58 L699.98 369.23 L700.46 368.85 L700.94 368.47 L701.42 368.10 L701.89 367.72 L702.36 367.35 L702.83 366.98 L703.30 366.62 L703.77 366.25 L704.23 365.89 L704.69 365.52 L705.15 365.16 L705.61 364.80 L706.06 364.44 L706.52 364.09 L706.97 363.73 L707.42 363.38 L707.90 363.00 L708.37 362.63 L708.85 362.25 L709.32 361.88 L709.79 361.51 L710.25 361.14 L710.72 360.77 L711.18 360.41 L711.64 360.05 L712.10 359.68 L712.56 359.32 L713.01 358.97 L713.46 358.61 L713.91 358.25 L714.36 357.90 L714.84 357.52 L715.31 357.15 L715.78 356.78 L716.25 356.41 L716.72 356.04 L717.18 355.67 L717.64 355.30 L718.10 354.94 L718.56 354.58 L719.02 354.22 L719.47 353.86 L719.92 353.50 L720.37 353.14 L720.82 352.79 L721.29 352.41 L721.76 352.04 L722.23 351.67 L722.70 351.30 L723.16 350.93 L723.63 350.57 L724.09 350.20 L724.54 349.84 L725.00 349.48 L725.45 349.12 L725.90 348.76 L726.35 348.40 L726.80 348.05 L727.27 347.67 L727.74 347.30 L728.21 346.93 L728.67 346.56 L729.14 346.19 L729.60 345.82 L730.05 345.46 L730.51 345.10 L730.96 344.74 L731.42 344.38 L731.87 344.02 L732.31 343.66 L732.76 343.31 L733.23 342.93 L733.69 342.56 L734.16 342.19 L734.62 341.83 L735.08 341.46 L735.54 341.09 L735.99 340.73 L736.45 340.37 L736.90 340.01 L737.35 339.65 L737.79 339.30 L738.24 338.94 L738.70 338.57 L739.17 338.20 L739.63 337.83 L740.09 337.46 L740.55 337.10 L741.00 336.73 L741.46 336.37 L741.91 336.01 L742.36 335.65 L742.80 335.29 L743.25 334.94 L743.72 334.57 L744.18 334.20 L744.64 333.83 L745.10 333.46 L745.55 333.10 L746.01 332.73 L746.46 332.37 L746.91 332.01 L747.36 331.65 L747.81 331.29 L748.27 330.92 L748.73 330.55 L749.20 330.18 L749.65 329.81 L750.11 329.45 L750.57 329.08 L751.02 328.72 L751.47 328.36 L751.92 328.00 L752.36 327.64 L752.81 327.29 L753.27 326.91 L753.73 326.55 L754.19 326.18 L754.64 325.81 L755.10 325.45 L755.55 325.08 L756.00 324.72 L756.45 324.36 L756.89 324.01 L757.36 323.63 L757.82 323.26 L758.27 322.90 L758.73 322.53 L759.19 322.16 L759.64 321.80 L760.09 321.44 L760.54 321.08 L760.98 320.72 L761.43 320.36 L761.89 319.99 L762.34 319.62 L762.80 319.26 L763.25 318.89 L763.71 318.53 L764.16 318.16 L764.60 317.80 L765.05 317.44 L765.49 317.09 L765.95 316.72 L766.41 316.35 L766.86 315.98 L767.32 315.62 L767.77 315.25 L768.22 314.89 L768.66 314.53 L769.11 314.17 L769.55 313.81 L770.01 313.44 L770.46 313.08 L770.92 312.71 L771.37 312.35 L771.82 311.98 L772.27 311.62 L772.71 311.26 L773.16 310.90 L773.61 310.53 L774.07 310.17 L774.52 309.80 L774.97 309.43 L775.42 309.07 L775.87 308.71 L776.31 308.35 L776.76 307.99 L777.21 307.62 L777.67 307.25 L778.12 306.89 L778.57 306.52 L779.02 306.16 L779.47 305.80 L779.91 305.44 L780.35 305.08 L780.81 304.71 L781.26 304.34 L781.71 303.98 L782.16 303.61 L782.61 303.25 L783.06 302.89 L783.50 302.53 L783.96 302.16 L784.41 301.79 L784.86 301.43 L785.31 301.06 L785.76 300.70 L786.20 300.34 L786.65 299.98 L787.09 299.62 L787.54 299.25 L788.00 298.88 L788.45 298.52 L788.89 298.15 L789.34 297.79 L789.78 297.43 L790.22 297.07 L790.68 296.71 L791.13 296.34 L791.58 295.97 L792.02 295.61 L792.47 295.25 L792.91 294.89 L793.37 294.52 L793.82 294.15 L794.27 293.78 L794.72 293.42 L795.16 293.06 L795.61 292.70 L796.05 292.34 L796.50 291.97 L796.95 291.60 L797.40 291.23 L797.85 290.87 L798.29 290.51 L798.74 290.15 L799.18 289.79 L799.63 289.42 L800.08 289.05 L800.53 288.69 L800.97 288.33 L801.42 287.96 L801.86 287.60 L802.31 287.24 L802.76 286.87 L803.20 286.50 L803.65 286.14 L804.09 285.78 L804.53 285.42 L804.99 285.05 L805.44 284.68 L805.88 284.32 L806.33 283.96 L806.77 283.59 L807.21 283.23 L807.66 282.87 L808.11 282.50 L808.56 282.13 L809.00 281.77 L809.44 281.41 L809.89 281.05 L810.33 280.68 L810.78 280.32 L811.23 279.95 L811.67 279.59 L812.11 279.23 L812.56 278.86 L813.01 278.49 L813.46 278.13 L813.90 277.76 L814.35 277.40 L814.79 277.04 L815.24 276.67 L815.68 276.31 L816.13 275.94 L816.57 275.58 L817.01 275.22 L817.46 274.85 L817.91 274.48 L818.36 274.12 L818.80 273.75 L819.24 273.39 L819.68 273.03 L820.13 272.66 L820.58 272.30 L821.02 271.93 L821.46 271.57 L821.90 271.21 L822.35 270.84 L822.79 270.48 L823.24 270.11 L823.68 269.75 L824.12 269.39 L824.57 269.02 L825.01 268.66 L825.46 268.29 L825.90 267.93 L826.34 267.57 L826.78 267.20 L827.23 266.84 L827.67 266.47 L828.11 266.11 L828.56 265.74 L829.01 265.38 L829.45 265.01 L829.89 264.65 L830.33 264.28 L830.78 263.92 L831.23 263.55 L831.67 263.19 L832.11 262.82 L832.55 262.46 L833.00 262.09 L833.44 261.73 L833.89 261.36 L834.33 261.00 L834.77 260.63 L835.22 260.27 L835.66 259.90 L836.10 259.54 L836.54 259.18 L836.99 258.81 L837.43 258.44 L837.87 258.08 L838.31 257.72 L838.76 257.35 L839.20 256.98 L839.65 256.62 L840.09 256.26 L840.53 255.89 L840.98 255.52 L841.42 255.16 L841.86 254.79 L842.30 254.43 L842.74 254.06 L843.19 253.70 L843.63 253.34 L844.07 252.97 L844.51 252.61 L844.95 252.24 L845.39 251.88 L845.83 251.51 L846.28 251.15 L846.72 250.78 L847.16 250.42 L847.60 250.06 L848.04 249.69 L848.49 249.32 L848.93 248.96 L849.36 248.60 L849.81 248.23 L850.25 247.87 L850.69 247.50 L851.13 247.14 L851.57 246.77 L852.01 246.41 L852.45 246.04 L852.90 245.68 L853.34 245.31 L853.78 244.95 L854.22 244.58 L854.66 244.22 L855.11 243.85 L855.55 243.49 L855.98 243.12 L856.43 242.76 L856.87 242.39 L857.31 242.03 L857.75 241.66 L858.19 241.29 L858.63 240.93 L859.07 240.56 L859.51 240.20 L859.96 239.83 L860.39 239.47 L860.84 239.10 L861.28 238.73 L861.72 238.37 L862.16 238.01 L862.60 237.64 L863.04 237.27 L863.48 236.91 L863.92 236.54 L864.36 236.18 L864.80 235.81 L865.24 235.45 L865.68 235.08 L866.12 234.72 L866.56 234.35 L867.00 233.99 L867.44 233.62 L867.88 233.26 L868.32 232.89 L868.76 232.53 L869.20 232.16 L869.64 231.79 L870.09 231.43 L870.52 231.06 L870.97 230.70 L871.41 230.33 L871.85 229.96 L872.28 229.60 L872.72 229.23 L873.16 228.87 L873.60 228.51 L874.04 228.14 L874.48 227.77 L874.92 227.41 L875.36 227.04 L875.80 226.68 L876.23 226.32 L876.68 225.95 L877.11 225.58 L877.55 225.22 L877.99 224.85 L878.43 224.49 L878.87 224.13 L879.31 223.76 L879.74 223.39 L880.19 223.03 L880.63 222.66 L881.06 222.29 L881.51 221.93 L881.95 221.56 L882.38 221.20 L882.82 220.83 L883.26 220.46 L883.70 220.10 L884.14 219.73 L884.58 219.37 L885.01 219.00 L885.45 218.64 L885.89 218.27 L886.33 217.90 L886.77 217.54 L887.21 217.17 L887.65 216.81 L888.09 216.44 L888.52 216.08 L888.96 215.71 L889.40 215.34 L889.84 214.98 L890.28 214.61 L890.72 214.25 L891.16 213.88 L891.59 213.51 L892.03 213.15 L892.47 212.78 L892.91 212.41 L893.35 212.05 L893.79 211.68 L894.23 211.31 L894.67 210.95 L895.10 210.58 L895.54 210.22 L895.98 209.85 L896.42 209.48 L896.86 209.12 L897.29 208.75 L897.73 208.38 L898.17 208.02 L898.61 207.65 L899.05 207.29 L899.48 206.92 L899.92 206.56 L900.36 206.19 L900.80 205.82 L901.23 205.46 L901.67 205.09 L902.11 204.72 L902.55 204.36 L902.99 203.99 L903.42 203.62 L903.86 203.26 L904.30 202.89 L904.74 202.52 L905.17 202.16 L905.61 201.79 L906.05 201.42 L906.49 201.06 L906.93 200.69 L907.36 200.32 L907.80 199.96 L908.24 199.59 L908.67 199.23 L909.11 198.86 L909.55 198.49 L909.98 198.13 L910.42 197.76 L910.86 197.39 L911.30 197.03 L911.73 196.66 L912.17 196.29 L912.61 195.93 L913.05 195.56 L913.49 195.19 L913.92 194.82 L914.36 194.46 L914.80 194.09 L915.24 193.72 L915.68 193.35 L916.11 192.99 L916.55 192.62 L916.99 192.25 L917.43 191.88 L917.86 191.52 L918.30 191.15 L918.74 190.78 L919.18 190.41 L919.61 190.05 L920.05 189.68 L920.49 189.31 L920.92 188.94 L921.36 188.58 L921.80 188.21 L922.23 187.84 L922.67 187.48 L923.11 187.11 L923.54 186.74 L923.98 186.38 L924.41 186.01 L924.85 185.65 L925.29 185.28 L925.72 184.91 L926.16 184.54 L926.60 184.18 L927.03 183.81 L927.47 183.44 L927.90 183.08 L928.34 182.71 L928.77 182.34 L929.21 181.98 L929.65 181.61 L930.08 181.24 L930.52 180.87 L930.95 180.51 L931.39 180.14 L931.83 179.77 L932.26 179.41 L932.70 179.04 L933.14 178.67 L933.57 178.30 L934.01 177.94 L934.44 177.57 L934.88 177.20 L935.31 176.84 L935.75 176.47 L936.18 176.10 L936.62 175.74 L937.06 175.37 L937.49 175.00 L937.93 174.63 L938.36 174.27 L938.80 173.90 L939.23 173.53 L939.67 173.16 L940.10 172.80 L940.54 172.43 L940.97 172.06 L941.41 171.70 L941.85 171.33 L942.28 170.96 L942.72 170.59 L943.15 170.22 L943.59 169.86 L944.02 169.49 L944.46 169.12 L944.89 168.76 L945.33 168.39 L945.76 168.02 L946.20 167.65 L946.63 167.28 L947.07 166.92 L947.50 166.55 L947.94 166.18 L948.38 165.81 L948.81 165.45 L949.24 165.08 L949.68 164.71 L950.11 164.34 L950.55 163.98 L950.98 163.61 L951.42 163.24 L951.85 162.87 L952.29 162.51 L952.72 162.14 L953.16 161.77 L953.59 161.40 L954.03 161.04 L954.46 160.67 L954.90 160.30 L955.33 159.93 L955.77 159.57 L956.20 159.20 L956.63 158.83 L957.07 158.46 L957.50 158.09 L957.94 157.73 L958.37 157.36 L958.81 156.99 L959.24 156.62 L959.68 156.25 L960.11 155.89 L960.54 155.52 L960.98 155.15 L961.41 154.78 L961.85 154.41 L962.28 154.05 L962.72 153.68 L963.15 153.31 L963.59 152.94 L964.02 152.57 L964.45 152.21 L964.89 151.84 L965.32 151.47 L965.76 151.10 L966.19 150.73 L966.62 150.37 L967.06 150.00 L967.49 149.63 L967.93 149.26 L968.36 148.90 L968.80 148.53 L969.23 148.16 L969.66 147.79 L970.09 147.42 L970.53 147.06 L970.96 146.69 L971.40 146.32 L971.83 145.95 L972.27 145.58 L972.70 145.21 L973.13 144.85 L973.57 144.48 L974.00 144.11 L974.43 143.74 L974.87 143.37 L975.30 143.01 L975.74 142.64 L976.17 142.27 L976.60 141.90 L977.04 141.53 L977.47 141.16 L977.90 140.80 L978.34 140.43 L978.77 140.06 L979.20 139.69 L979.64 139.32 L980.07 138.96 L980.50 138.59 L980.94 138.22 L981.37 137.85 L981.50 137.74 L982.26 137.09" stroke="#7E2F8E"/>
<path d="M144.70 402.47 L154.06 510.69 L162.61 549.89 L170.48 571.64 L177.76 585.50 L184.54 594.99 L190.88 601.75 L196.83 606.68 L202.45 610.34 L207.76 613.07 L212.80 615.10 L217.59 616.60 L222.17 617.67 L226.53 618.42 L230.71 618.91 L234.72 619.18 L238.58 619.27 L242.29 619.22 L245.86 619.06 L249.31 618.79 L252.64 618.44 L255.86 618.03 L258.98 617.55 L262.00 617.03 L264.93 616.46 L267.78 615.86 L270.55 615.23 L273.24 614.58 L275.86 613.91 L278.41 613.22 L280.90 612.51 L283.33 611.80 L285.70 611.07 L288.01 610.34 L290.27 609.60 L292.47 608.86 L294.63 608.11 L296.75 607.36 L298.81 606.61 L300.84 605.86 L302.82 605.11 L304.77 604.36 L306.68 603.61 L308.55 602.87 L310.39 602.13 L312.19 601.39 L313.96 600.65 L315.70 599.91 L317.41 599.18 L319.09 598.46 L320.74 597.73 L322.36 597.02 L323.96 596.30 L325.53 595.59 L327.08 594.89 L328.60 594.19 L330.10 593.49 L331.58 592.80 L333.03 592.11 L334.47 591.43 L335.88 590.75 L337.28 590.08 L338.65 589.41 L340.01 588.75 L341.34 588.09 L342.66 587.43 L343.96 586.79 L345.25 586.14 L346.51 585.50 L347.77 584.87 L349.00 584.23 L350.22 583.61 L351.43 582.99 L352.62 582.37 L353.80 581.76 L354.96 581.15 L356.11 580.54 L357.24 579.94 L358.37 579.35 L359.48 578.76 L360.57 578.17 L361.66 577.59 L362.73 577.01 L363.80 576.43 L364.85 575.86 L365.89 575.29 L366.91 574.73 L367.93 574.17 L368.94 573.62 L369.94 573.07 L370.93 572.52 L371.90 571.97 L372.87 571.43 L373.83 570.90 L374.78 570.37 L375.72 569.84 L376.65 569.31 L377.57 568.79 L378.49 568.27 L379.39 567.75 L380.29 567.24 L381.18 566.73 L382.06 566.23 L382.93 565.72 L383.80 565.22 L384.66 564.73 L385.51 564.24 L386.35 563.75 L387.19 563.26 L388.02 562.78 L388.84 562.29 L389.65 561.82 L390.46 561.34 L391.26 560.87 L392.06 560.40 L392.85 559.93 L393.63 559.47 L394.41 559.01 L395.18 558.55 L395.94 558.10 L396.70 557.64 L397.46 557.19 L398.20 556.75 L398.94 556.30 L399.68 555.86 L400.41 555.42 L401.14 554.98 L401.86 554.55 L402.57 554.12 L403.28 553.69 L403.98 553.26 L404.68 552.83 L405.38 552.41 L406.07 551.99 L406.75 551.57 L407.43 551.16 L408.11 550.74 L408.78 550.33 L409.44 549.92 L410.10 549.52 L410.76 549.11 L411.41 548.71 L412.06 548.31 L412.71 547.91 L413.35 547.51 L413.98 547.12 L414.62 546.72 L415.24 546.33 L415.87 545.95 L416.49 545.56 L417.10 545.18 L417.71 544.79 L418.32 544.41 L418.93 544.03 L419.53 543.66 L420.13 543.28 L420.72 542.91 L421.31 542.54 L421.90 542.17 L422.48 541.80 L423.06 541.43 L423.64 541.07 L424.21 540.71 L424.78 540.34 L425.34 539.99 L425.91 539.63 L426.47 539.27 L427.02 538.92 L427.58 538.57 L428.13 538.21 L428.67 537.87 L429.22 537.52 L429.76 537.17 L430.30 536.83 L430.83 536.48 L431.37 536.14 L431.90 535.80 L432.42 535.46 L432.95 535.13 L433.47 534.79 L433.99 534.46 L434.50 534.13 L435.02 533.79 L435.53 533.46 L436.03 533.14 L436.54 532.81 L437.04 532.48 L437.54 532.16 L438.04 531.84 L438.53 531.52 L439.03 531.20 L439.52 530.88 L440.00 530.56 L440.49 530.24 L441.45 529.62 L442.41 528.99 L443.35 528.38 L444.29 527.76 L445.21 527.15 L446.13 526.55 L447.04 525.95 L447.94 525.36 L448.84 524.77 L449.72 524.18 L450.60 523.60 L451.47 523.03 L452.33 522.46 L453.18 521.89 L454.03 521.33 L454.87 520.77 L455.70 520.21 L456.53 519.66 L457.35 519.11 L458.16 518.57 L458.96 518.03 L459.76 517.50 L460.56 516.96 L461.34 516.44 L462.12 515.91 L462.90 515.39 L463.66 514.87 L464.42 514.36 L465.18 513.85 L465.93 513.34 L466.67 512.84 L467.41 512.34 L468.15 511.84 L468.87 511.35 L469.60 510.86 L470.31 510.37 L471.03 509.88 L471.73 509.40 L472.43 508.92 L473.13 508.45 L473.82 507.98 L474.51 507.51 L475.19 507.04 L475.87 506.58 L476.54 506.11 L477.21 505.66 L477.87 505.20 L478.53 504.75 L479.19 504.30 L479.84 503.85 L480.49 503.40 L481.13 502.96 L481.77 502.52 L482.40 502.08 L483.03 501.65 L483.66 501.22 L484.28 500.79 L484.90 500.36 L485.51 499.93 L486.12 499.51 L486.73 499.09 L487.33 498.67 L487.93 498.25 L488.52 497.84 L489.12 497.43 L489.70 497.02 L490.29 496.61 L490.87 496.21 L491.45 495.80 L492.02 495.40 L492.59 495.00 L493.16 494.61 L493.73 494.21 L494.29 493.82 L494.85 493.43 L495.40 493.04 L495.95 492.65 L496.50 492.27 L497.05 491.88 L497.59 491.50 L498.13 491.12 L498.67 490.75 L499.20 490.37 L499.73 490.00 L500.26 489.62 L500.79 489.25 L501.31 488.89 L501.83 488.52 L502.35 488.15 L502.86 487.79 L503.37 487.43 L503.88 487.07 L504.39 486.71 L504.89 486.36 L505.39 486.00 L505.89 485.65 L506.39 485.30 L506.88 484.95 L507.37 484.60 L507.86 484.25 L508.35 483.90 L508.83 483.56 L509.31 483.22 L509.79 482.88 L510.27 482.54 L510.74 482.20 L511.22 481.86 L511.69 481.53 L512.15 481.20 L512.85 480.70 L513.54 480.20 L514.23 479.71 L514.91 479.22 L515.59 478.74 L516.27 478.26 L516.94 477.78 L517.60 477.30 L518.26 476.83 L518.92 476.36 L519.57 475.89 L520.22 475.43 L520.86 474.97 L521.50 474.51 L522.13 474.05 L522.76 473.60 L523.39 473.14 L524.01 472.70 L524.63 472.25 L525.24 471.81 L525.85 471.37 L526.46 470.93 L527.07 470.49 L527.66 470.06 L528.26 469.63 L528.85 469.20 L529.44 468.77 L530.03 468.35 L530.61 467.93 L531.19 467.51 L531.76 467.09 L532.33 466.67 L532.90 466.26 L533.47 465.85 L534.03 465.44 L534.59 465.03 L535.14 464.63 L535.70 464.23 L536.25 463.83 L536.79 463.43 L537.34 463.03 L537.88 462.64 L538.41 462.25 L538.95 461.86 L539.48 461.47 L540.01 461.08 L540.53 460.70 L541.06 460.32 L541.58 459.94 L542.10 459.56 L542.61 459.18 L543.12 458.80 L543.63 458.43 L544.14 458.06 L544.64 457.69 L545.14 457.32 L545.64 456.96 L546.14 456.59 L546.63 456.23 L547.13 455.87 L547.62 455.51 L548.10 455.15 L548.59 454.79 L549.07 454.44 L549.55 454.08 L550.03 453.73 L550.50 453.38 L550.97 453.03 L551.44 452.69 L551.91 452.34 L552.38 452.00 L552.84 451.66 L553.30 451.32 L553.92 450.86 L554.52 450.41 L555.13 449.97 L555.73 449.52 L556.33 449.08 L556.92 448.64 L557.51 448.20 L558.10 447.77 L558.68 447.34 L559.26 446.91 L559.84 446.48 L560.41 446.05 L560.98 445.63 L561.54 445.21 L562.11 444.79 L562.67 444.38 L563.22 443.96 L563.78 443.55 L564.33 443.14 L564.88 442.73 L565.42 442.33 L565.96 441.92 L566.50 441.52 L567.03 441.12 L567.57 440.73 L568.10 440.33 L568.62 439.94 L569.15 439.55 L569.67 439.16 L570.19 438.77 L570.70 438.38 L571.22 438.00 L571.73 437.62 L572.23 437.24 L572.74 436.86 L573.24 436.48 L573.74 436.11 L574.24 435.74 L574.73 435.36 L575.23 435.00 L575.72 434.63 L576.20 434.26 L576.69 433.90 L577.17 433.54 L577.65 433.17 L578.13 432.82 L578.61 432.46 L579.08 432.10 L579.55 431.75 L580.02 431.39 L580.49 431.04 L580.95 430.69 L581.41 430.34 L581.87 430.00 L582.33 429.65 L582.90 429.22 L583.47 428.80 L584.03 428.37 L584.59 427.95 L585.15 427.53 L585.70 427.11 L586.25 426.70 L586.80 426.28 L587.34 425.87 L587.88 425.46 L588.42 425.05 L588.96 424.65 L589.49 424.25 L590.02 423.84 L590.55 423.45 L591.07 423.05 L591.59 422.65 L592.11 422.26 L592.63 421.87 L593.14 421.48 L593.65 421.09 L594.16 420.71 L594.66 420.32 L595.17 419.94 L595.67 419.56 L596.16 419.18 L596.66 418.81 L597.15 418.43 L597.64 418.06 L598.13 417.69 L598.61 417.32 L599.10 416.95 L599.58 416.59 L600.05 416.22 L600.53 415.86 L601.00 415.50 L601.48 415.14 L601.94 414.78 L602.41 414.43 L602.88 414.07 L603.34 413.72 L603.80 413.37 L604.26 413.02 L604.71 412.67 L605.17 412.32 L605.71 411.91 L606.25 411.50 L606.78 411.09 L607.32 410.68 L607.85 410.27 L608.37 409.87 L608.90 409.47 L609.42 409.07 L609.94 408.67 L610.45 408.27 L610.97 407.88 L611.48 407.49 L611.99 407.10 L612.49 406.71 L612.99 406.32 L613.50 405.94 L613.99 405.56 L614.49 405.18 L614.98 404.80 L615.47 404.42 L615.96 404.05 L616.45 403.67 L616.93 403.30 L617.41 402.93 L617.89 402.56 L618.36 402.20 L618.84 401.83 L619.31 401.47 L619.78 401.11 L620.25 400.75 L620.71 400.39 L621.17 400.03 L621.63 399.68 L622.09 399.32 L622.55 398.97 L623.00 398.62 L623.45 398.27 L623.98 397.87 L624.50 397.46 L625.02 397.06 L625.54 396.66 L626.05 396.27 L626.56 395.87 L627.07 395.48 L627.58 395.09 L628.08 394.70 L628.58 394.31 L629.08 393.92 L629.57 393.54 L630.07 393.16 L630.56 392.78 L631.05 392.40 L631.53 392.02 L632.02 391.65 L632.50 391.27 L632.98 390.90 L633.45 390.53 L633.93 390.16 L634.40 389.80 L634.87 389.43 L635.34 389.07 L635.80 388.71 L636.26 388.35 L636.72 387.99 L637.18 387.63 L637.64 387.28 L638.09 386.93 L638.55 386.57 L639.00 386.22 L639.51 385.83 L640.02 385.43 L640.52 385.03 L641.03 384.64 L641.53 384.25 L642.03 383.86 L642.53 383.48 L643.02 383.09 L643.51 382.71 L644.00 382.33 L644.49 381.95 L644.97 381.57 L645.45 381.19 L645.93 380.82 L646.41 380.44 L646.89 380.07 L647.36 379.70 L647.83 379.34 L648.30 378.97 L648.76 378.61 L649.23 378.24 L649.69 377.88 L650.15 377.52 L650.60 377.17 L651.06 376.81 L651.51 376.45 L651.96 376.10 L652.41 375.75 L652.91 375.36 L653.41 374.96 L653.91 374.57 L654.41 374.19 L654.90 373.80 L655.39 373.42 L655.88 373.03 L656.36 372.65 L656.85 372.27 L657.33 371.90 L657.80 371.52 L658.28 371.15 L658.75 370.78 L659.22 370.41 L659.69 370.04 L660.16 369.67 L660.62 369.31 L661.09 368.94 L661.55 368.58 L662.00 368.22 L662.46 367.86 L662.91 367.50 L663.37 367.15 L663.82 366.80 L664.26 366.44 L664.76 366.05 L665.25 365.67 L665.74 365.28 L666.23 364.89 L666.71 364.51 L667.20 364.13 L667.68 363.75 L668.16 363.38 L668.63 363.00 L669.10 362.63 L669.58 362.26 L670.04 361.88 L670.51 361.52 L670.98 361.15 L671.44 360.78 L671.90 360.42 L672.36 360.06 L672.81 359.70 L673.27 359.34 L673.72 358.98 L674.17 358.63 L674.62 358.27 L675.11 357.89 L675.59 357.50 L676.08 357.12 L676.56 356.73 L677.04 356.35 L677.52 355.97 L677.99 355.60 L678.47 355.22 L678.94 354.85 L679.41 354.48 L679.88 354.11 L680.34 353.74 L680.80 353.37 L681.26 353.01 L681.72 352.64 L682.18 352.28 L682.63 351.92 L683.08 351.56 L683.53 351.21 L683.98 350.85 L684.47 350.47 L684.95 350.08 L685.43 349.70 L685.91 349.32 L686.39 348.94 L686.86 348.56 L687.33 348.19 L687.80 347.81 L688.27 347.44 L688.73 347.07 L689.20 346.70 L689.66 346.34 L690.12 345.97 L690.57 345.61 L691.03 345.25 L691.48 344.89 L691.93 344.53 L692.38 344.17 L692.83 343.82 L693.31 343.43 L693.79 343.05 L694.26 342.67 L694.74 342.29 L695.21 341.92 L695.68 341.54 L696.14 341.17 L696.61 340.80 L697.07 340.43 L697.53 340.06 L697.99 339.69 L698.45 339.33 L698.90 338.97 L699.36 338.61 L699.81 338.25 L700.25 337.89 L700.70 337.53 L701.18 337.15 L701.65 336.77 L702.13 336.39 L702.60 336.01 L703.07 335.64 L703.54 335.26 L704.00 334.89 L704.46 334.52 L704.92 334.15 L705.38 333.79 L705.84 333.42 L706.29 333.06 L706.74 332.70 L707.19 332.33 L707.64 331.98 L708.09 331.62 L708.56 331.24 L709.04 330.86 L709.51 330.48 L709.97 330.11 L710.44 329.73 L710.90 329.36 L711.37 328.99 L711.83 328.62 L712.28 328.25 L712.74 327.89 L713.19 327.52 L713.64 327.16 L714.09 326.80 L714.54 326.44 L714.99 326.08 L715.46 325.70 L715.93 325.32 L716.40 324.95 L716.86 324.57 L717.33 324.20 L717.79 323.83 L718.25 323.46 L718.70 323.09 L719.16 322.73 L719.61 322.36 L720.06 322.00 L720.51 321.64 L720.96 321.28 L721.40 320.92 L721.87 320.54 L722.34 320.16 L722.81 319.79 L723.27 319.41 L723.73 319.04 L724.19 318.67 L724.65 318.30 L725.11 317.94 L725.56 317.57 L726.01 317.21 L726.46 316.84 L726.91 316.48 L727.35 316.13 L727.79 315.77 L728.26 315.39 L728.72 315.02 L729.19 314.64 L729.65 314.27 L730.11 313.90 L730.56 313.53 L731.02 313.17 L731.47 312.80 L731.92 312.44 L732.36 312.08 L732.81 311.72 L733.25 311.36 L733.72 310.98 L734.18 310.61 L734.64 310.23 L735.10 309.86 L735.56 309.49 L736.02 309.12 L736.47 308.75 L736.92 308.39 L737.37 308.03 L737.82 307.66 L738.26 307.30 L738.70 306.94 L739.17 306.57 L739.63 306.19 L740.09 305.82 L740.55 305.45 L741.00 305.08 L741.46 304.71 L741.91 304.35 L742.36 303.98 L742.80 303.62 L743.25 303.26 L743.69 302.90 L744.16 302.52 L744.62 302.15 L745.08 301.78 L745.53 301.41 L745.99 301.04 L746.44 300.67 L746.89 300.30 L747.34 299.94 L747.79 299.58 L748.23 299.22 L748.67 298.86 L749.13 298.48 L749.59 298.11 L750.05 297.74 L750.50 297.37 L750.96 297.00 L751.41 296.63 L751.86 296.27 L752.30 295.91 L752.75 295.54 L753.19 295.18 L753.65 294.81 L754.11 294.44 L754.57 294.06 L755.02 293.69 L755.47 293.33 L755.92 292.96 L756.37 292.59 L756.82 292.23 L757.26 291.87 L757.70 291.51 L758.16 291.14 L758.62 290.76 L759.07 290.39 L759.52 290.02 L759.97 289.66 L760.42 289.29 L760.87 288.93 L761.31 288.56 L761.76 288.20 L762.22 287.83 L762.67 287.45 L763.13 287.08 L763.58 286.71 L764.03 286.35 L764.48 285.98 L764.92 285.62 L765.37 285.25 L765.81 284.89 L766.25 284.53 L766.71 284.16 L767.16 283.79 L767.61 283.42 L768.06 283.05 L768.51 282.69 L768.96 282.32 L769.40 281.96 L769.84 281.60 L770.30 281.22 L770.75 280.85 L771.20 280.48 L771.65 280.11 L772.10 279.75 L772.55 279.38 L772.99 279.02 L773.43 278.66 L773.87 278.30 L774.33 277.92 L774.78 277.55 L775.23 277.19 L775.68 276.82 L776.12 276.45 L776.57 276.09 L777.01 275.73 L777.45 275.37 L777.90 274.99 L778.35 274.62 L778.80 274.26 L779.25 273.89 L779.70 273.52 L780.14 273.16 L780.58 272.80 L781.02 272.44 L781.47 272.07 L781.92 271.70 L782.37 271.33 L782.82 270.96 L783.26 270.60 L783.71 270.23 L784.15 269.87 L784.60 269.50 L785.05 269.13 L785.50 268.76 L785.95 268.39 L786.39 268.03 L786.83 267.66 L787.27 267.30 L787.73 266.93 L788.18 266.56 L788.63 266.19 L789.07 265.82 L789.52 265.46 L789.96 265.09 L790.40 264.73 L790.85 264.36 L791.31 263.99 L791.75 263.62 L792.20 263.25 L792.64 262.88 L793.09 262.52 L793.53 262.16 L793.98 261.79 L794.43 261.41 L794.88 261.05 L795.32 260.68 L795.76 260.31 L796.21 259.95 L796.64 259.59 L797.10 259.22 L797.54 258.85 L797.99 258.48 L798.43 258.11 L798.88 257.75 L799.32 257.39 L799.77 257.01 L800.22 256.64 L800.66 256.27 L801.11 255.91 L801.55 255.54 L801.99 255.18 L802.43 254.82 L802.88 254.45 L803.33 254.08 L803.77 253.71 L804.21 253.34 L804.65 252.98 L805.09 252.62 L805.54 252.25 L805.99 251.88 L806.43 251.51 L806.88 251.15 L807.32 250.78 L807.75 250.42 L808.20 250.05 L808.65 249.68 L809.09 249.31 L809.54 248.95 L809.98 248.58 L810.41 248.22 L810.86 247.85 L811.31 247.48 L811.75 247.11 L812.19 246.75 L812.63 246.39 L813.08 246.01 L813.52 245.65 L813.97 245.28 L814.41 244.91 L814.85 244.55 L815.29 244.18 L815.74 243.81 L816.18 243.44 L816.63 243.08 L817.07 242.71 L817.51 242.35 L817.95 241.98 L818.40 241.61 L818.84 241.24 L819.28 240.88 L819.72 240.51 L820.16 240.15 L820.61 239.78 L821.05 239.41 L821.49 239.04 L821.93 238.68 L822.37 238.32 L822.81 237.95 L823.26 237.58 L823.70 237.21 L824.14 236.85 L824.58 236.48 L825.02 236.11 L825.47 235.75 L825.91 235.38 L826.35 235.01 L826.78 234.65 L827.23 234.28 L827.67 233.91 L828.11 233.55 L828.55 233.18 L828.99 232.82 L829.43 232.45 L829.88 232.08 L830.32 231.72 L830.75 231.35 L831.20 230.98 L831.64 230.61 L832.09 230.25 L832.52 229.88 L832.96 229.52 L833.41 229.15 L833.85 228.78 L834.29 228.41 L834.73 228.05 L835.17 227.68 L835.61 227.31 L836.05 226.95 L836.49 226.58 L836.93 226.22 L837.37 225.85 L837.81 225.48 L838.25 225.11 L838.69 224.75 L839.14 224.38 L839.58 224.01 L840.02 223.64 L840.46 223.28 L840.89 222.91 L841.34 222.54 L841.78 222.18 L842.22 221.81 L842.65 221.44 L843.10 221.08 L843.54 220.71 L843.98 220.34 L844.41 219.98 L844.86 219.61 L845.30 219.24 L845.74 218.87 L846.18 218.51 L846.62 218.14 L847.06 217.77 L847.50 217.40 L847.94 217.04 L848.38 216.67 L848.82 216.30 L849.26 215.94 L849.69 215.57 L850.14 215.20 L850.58 214.83 L851.02 214.47 L851.45 214.10 L851.89 213.73 L852.33 213.37 L852.77 213.00 L853.21 212.63 L853.65 212.27 L854.09 211.90 L854.53 211.53 L854.97 211.16 L855.41 210.79 L855.85 210.43 L856.29 210.06 L856.73 209.69 L857.17 209.33 L857.61 208.96 L858.04 208.59 L858.48 208.23 L858.92 207.86 L859.36 207.49 L859.80 207.12 L860.24 206.76 L860.68 206.39 L861.11 206.02 L861.55 205.65 L861.99 205.29 L862.43 204.92 L862.87 204.55 L863.31 204.18 L863.75 203.82 L864.18 203.45 L864.62 203.08 L865.06 202.72 L865.50 202.35 L865.94 201.98 L866.38 201.62 L866.81 201.25 L867.25 200.88 L867.69 200.51 L868.13 200.14 L868.57 199.77 L869.01 199.41 L869.45 199.04 L869.88 198.67 L870.32 198.31 L870.76 197.94 L871.20 197.57 L871.64 197.20 L872.07 196.84 L872.51 196.47 L872.95 196.10 L873.39 195.73 L873.82 195.37 L874.26 195.00 L874.70 194.63 L875.14 194.26 L875.58 193.90 L876.02 193.53 L876.45 193.16 L876.89 192.79 L877.33 192.42 L877.77 192.06 L878.21 191.69 L878.64 191.32 L879.08 190.95 L879.52 190.59 L879.95 190.22 L880.39 189.85 L880.83 189.48 L881.27 189.12 L881.70 188.75 L882.14 188.38 L882.58 188.01 L883.01 187.65 L883.45 187.28 L883.89 186.91 L884.32 186.54 L884.76 186.18 L885.20 185.81 L885.64 185.44 L886.07 185.07 L886.51 184.71 L886.95 184.34 L887.38 183.97 L887.82 183.60 L888.26 183.24 L888.69 182.87 L889.13 182.50 L889.57 182.13 L890.00 181.77 L890.44 181.40 L890.87 181.03 L891.31 180.66 L891.75 180.29 L892.19 179.92 L892.62 179.56 L893.06 179.19 L893.50 178.82 L893.94 178.45 L894.37 178.08 L894.81 177.71 L895.24 177.35 L895.68 176.98 L896.12 176.61 L896.55 176.24 L896.99 175.87 L897.43 175.51 L897.87 175.14 L898.30 174.77 L898.74 174.40 L899.17 174.03 L899.61 173.67 L900.05 173.30 L900.48 172.93 L900.92 172.56 L901.36 172.19 L901.79 171.82 L902.23 171.45 L902.66 171.09 L903.10 170.72 L903.54 170.35 L903.97 169.98 L904.41 169.61 L904.84 169.25 L905.28 168.88 L905.71 168.51 L906.15 168.14 L906.59 167.77 L907.02 167.40 L907.46 167.04 L907.90 166.67 L908.33 166.30 L908.76 165.93 L909.20 165.56 L909.63 165.20 L910.07 164.83 L910.50 164.46 L910.94 164.09 L911.37 163.73 L911.81 163.36 L912.25 162.99 L912.68 162.62 L913.12 162.25 L913.55 161.88 L913.99 161.51 L914.42 161.15 L914.86 160.78 L915.29 160.41 L915.73 160.04 L916.17 159.67 L916.60 159.30 L917.04 158.93 L917.47 158.57 L917.91 158.20 L918.34 157.83 L918.78 157.46 L919.21 157.09 L919.65 156.72 L920.08 156.35 L920.52 155.98 L920.95 155.62 L921.39 155.25 L921.82 154.88 L922.26 154.51 L922.69 154.14 L923.13 153.77 L923.56 153.41 L924.00 153.04 L924.43 152.67 L924.86 152.30 L925.30 151.93 L925.73 151.56 L926.17 151.19 L926.60 150.83 L927.04 150.46 L927.47 150.09 L927.91 149.72 L928.34 149.35 L928.77 148.98 L929.21 148.61 L929.64 148.25 L930.08 147.88 L930.51 147.51 L930.95 147.14 L931.38 146.77 L931.82 146.40 L932.25 146.03 L932.68 145.67 L933.12 145.30 L933.55 144.93 L933.99 144.56 L934.42 144.19 L934.86 143.82 L935.29 143.45 L935.72 143.08 L936.16 142.71 L936.59 142.34 L937.03 141.98 L937.46 141.61 L937.90 141.24 L938.33 140.87 L938.76 140.50 L939.20 140.13 L939.63 139.76 L940.07 139.39 L940.50 139.02 L940.94 138.66 L941.37 138.29 L941.80 137.92 L942.24 137.55 L942.67 137.18 L943.10 136.81 L943.54 136.44 L943.97 136.07 L944.40 135.70 L944.84 135.33 L945.27 134.97 L945.70 134.60 L946.14 134.23 L946.57 133.86 L947.01 133.49 L947.44 133.12 L947.87 132.75 L948.31 132.38 L948.74 132.01 L949.17 131.64 L949.61 131.28 L950.04 130.91 L950.47 130.54 L950.91 130.17 L951.34 129.80 L951.77 129.43 L952.21 129.06 L952.64 128.69 L953.07 128.32 L953.51 127.95 L953.94 127.59 L954.37 127.22 L954.81 126.85 L955.24 126.48 L955.67 126.11 L956.10 125.74 L956.54 125.37 L956.97 125.00 L957.40 124.63 L957.84 124.26 L958.27 123.89 L958.70 123.52 L959.14 123.15 L959.57 122.78 L960.00 122.41 L960.43 122.05 L960.87 121.68 L961.30 121.31 L961.73 120.94 L962.17 120.57 L962.60 120.20 L963.03 119.83 L963.47 119.46 L963.90 119.09 L964.33 118.72 L964.76 118.35 L965.20 117.98 L965.63 117.61 L966.06 117.24 L966.50 116.87 L966.93 116.50 L967.36 116.13 L967.79 115.76 L968.23 115.39 L968.66 115.02 L969.09 114.65 L969.52 114.29 L969.96 113.92 L970.39 113.55 L970.82 113.18 L971.25 112.81 L971.69 112.44 L972.12 112.07 L972.55 111.70 L972.98 111.33 L973.41 110.96 L973.85 110.59 L974.28 110.22 L974.71 109.85 L975.14 109.48 L975.58 109.11 L976.01 108.74 L976.44 108.37 L976.87 108.00 L977.30 107.63 L977.74 107.26 L978.17 106.89 L978.60 106.52 L979.03 106.15 L979.46 105.78 L979.90 105.41 L980.33 105.04 L980.76 104.67 L981.19 104.30 L981.50 104.04 L982.26 103.39" stroke="#77AC30"/>
<path d="M300.84 266.75 L302.82 333.61 L304.77 370.61 L306.68 395.82 L308.55 414.70 L310.39 429.62 L312.19 441.83 L313.96 452.08 L315.70 460.84 L317.41 468.45 L319.09 475.12 L320.74 481.03 L322.36 486.31 L323.96 491.05 L325.53 495.34 L327.08 499.23 L328.60 502.78 L330.10 506.03 L331.58 509.01 L333.03 511.76 L334.47 514.30 L335.88 516.64 L337.28 518.82 L338.65 520.85 L340.01 522.73 L341.34 524.49 L342.66 526.13 L343.96 527.66 L345.25 529.10 L346.51 530.44 L347.77 531.70 L349.00 532.89 L350.22 534.00 L351.43 535.04 L352.62 536.03 L353.80 536.95 L354.96 537.83 L356.11 538.65 L357.24 539.42 L358.37 540.15 L359.48 540.84 L360.57 541.48 L361.66 542.10 L362.73 542.67 L363.80 543.22 L364.85 543.73 L365.89 544.21 L366.91 544.67 L367.93 545.10 L368.94 545.50 L369.94 545.88 L370.93 546.24 L371.90 546.58 L372.87 546.90 L373.83 547.19 L374.78 547.47 L375.72 547.74 L376.65 547.98 L377.57 548.21 L378.49 548.43 L379.39 548.63 L380.29 548.82 L381.18 548.99 L382.06 549.15 L382.93 549.30 L383.80 549.44 L384.66 549.56 L385.51 549.68 L386.35 549.79 L387.19 549.88 L388.02 549.97 L388.84 550.05 L389.65 550.12 L390.46 550.18 L391.26 550.23 L392.06 550.28 L392.85 550.32 L393.63 550.35 L394.41 550.38 L395.94 550.41 L397.46 550.41 L398.94 550.40 L400.41 550.37 L401.86 550.31 L403.28 550.24 L404.68 550.15 L406.07 550.05 L407.43 549.93 L408.78 549.80 L410.10 549.66 L411.41 549.51 L412.71 549.34 L413.98 549.17 L415.24 548.98 L416.49 548.79 L417.71 548.59 L418.93 548.38 L420.13 548.17 L421.31 547.95 L422.48 547.72 L423.64 547.49 L424.78 547.25 L425.91 547.00 L427.02 546.76 L428.13 546.50 L429.22 546.25 L430.30 545.99 L431.37 545.72 L432.42 545.45 L433.47 545.18 L434.50 544.91 L435.53 544.64 L436.54 544.36 L437.54 544.08 L438.53 543.79 L439.52 543.51 L440.49 543.22 L441.45 542.94 L442.41 542.65 L443.35 542.36 L444.29 542.07 L445.21 541.77 L446.13 541.48 L447.04 541.18 L447.94 540.89 L448.84 540.59 L449.72 540.29 L450.60 540.00 L451.47 539.70 L452.33 539.40 L453.18 539.10 L454.03 538.80 L454.87 538.50 L455.70 538.20 L456.53 537.90 L457.35 537.60 L458.16 537.30 L458.96 537.00 L459.76 536.70 L460.56 536.40 L461.34 536.10 L462.12 535.80 L462.90 535.50 L463.66 535.20 L464.42 534.90 L465.18 534.61 L465.93 534.31 L466.67 534.01 L467.41 533.71 L468.15 533.41 L468.87 533.12 L469.60 532.82 L470.31 532.53 L471.03 532.23 L471.73 531.94 L472.43 531.64 L473.13 531.35 L473.82 531.05 L474.51 530.76 L475.19 530.47 L475.87 530.18 L476.54 529.89 L477.21 529.60 L477.87 529.31 L478.53 529.02 L479.19 528.73 L479.84 528.44 L480.49 528.16 L481.13 527.87 L481.77 527.59 L482.40 527.30 L483.03 527.02 L483.66 526.73 L484.28 526.45 L484.90 526.17 L485.51 525.89 L486.12 525.61 L486.73 525.33 L487.33 525.05 L487.93 524.77 L488.52 524.49 L489.12 524.22 L489.70 523.94 L490.29 523.66 L490.87 523.39 L491.45 523.12 L492.02 522.84 L492.59 522.57 L493.16 522.30 L493.73 522.03 L494.29 521.76 L494.85 521.49 L495.40 521.22 L495.95 520.95 L496.50 520.69 L497.05 520.42 L497.59 520.15 L498.13 519.89 L498.67 519.62 L499.47 519.23 L500.26 518.84 L501.05 518.45 L501.83 518.06 L502.60 517.67 L503.37 517.28 L504.13 516.90 L504.89 516.51 L505.64 516.13 L506.39 515.75 L507.13 515.38 L507.86 515.00 L508.59 514.62 L509.31 514.25 L510.03 513.88 L510.74 513.51 L511.45 513.14 L512.15 512.77 L512.85 512.41 L513.54 512.05 L514.23 511.68 L514.91 511.32 L515.59 510.96 L516.27 510.61 L516.94 510.25 L517.60 509.90 L518.26 509.54 L518.92 509.19 L519.57 508.84 L520.22 508.50 L520.86 508.15 L521.50 507.80 L522.13 507.46 L522.76 507.12 L523.39 506.78 L524.01 506.44 L524.63 506.10 L525.24 505.76 L525.85 505.43 L526.46 505.09 L527.07 504.76 L527.66 504.43 L528.26 504.10 L528.85 503.77 L529.44 503.44 L530.03 503.12 L530.61 502.79 L531.19 502.47 L531.76 502.15 L532.33 501.83 L532.90 501.51 L533.47 501.19 L534.03 500.87 L534.59 500.56 L535.14 500.24 L535.70 499.93 L536.25 499.62 L536.79 499.31 L537.34 499.00 L537.88 498.69 L538.41 498.38 L538.95 498.08 L539.48 497.77 L540.01 497.47 L540.53 497.17 L541.06 496.86 L541.58 496.56 L542.10 496.27 L542.61 495.97 L543.12 495.67 L543.63 495.38 L544.14 495.08 L544.81 494.69 L545.48 494.30 L546.14 493.92 L546.80 493.53 L547.45 493.15 L548.10 492.77 L548.75 492.39 L549.39 492.01 L550.03 491.64 L550.66 491.26 L551.29 490.89 L551.91 490.52 L552.53 490.15 L553.15 489.78 L553.76 489.42 L554.37 489.06 L554.98 488.70 L555.58 488.34 L556.18 487.98 L556.77 487.62 L557.36 487.27 L557.95 486.91 L558.53 486.56 L559.12 486.21 L559.69 485.86 L560.27 485.52 L560.84 485.17 L561.40 484.83 L561.97 484.49 L562.53 484.14 L563.09 483.81 L563.64 483.47 L564.19 483.13 L564.74 482.80 L565.28 482.46 L565.83 482.13 L566.37 481.80 L566.90 481.47 L567.43 481.14 L567.96 480.82 L568.49 480.49 L569.02 480.17 L569.54 479.85 L570.06 479.53 L570.57 479.21 L571.09 478.89 L571.60 478.57 L572.11 478.26 L572.61 477.94 L573.12 477.63 L573.62 477.32 L574.12 477.01 L574.61 476.70 L575.10 476.39 L575.72 476.01 L576.33 475.63 L576.93 475.25 L577.53 474.87 L578.13 474.50 L578.73 474.12 L579.32 473.75 L579.90 473.38 L580.49 473.01 L581.07 472.65 L581.64 472.28 L582.22 471.92 L582.79 471.56 L583.36 471.20 L583.92 470.84 L584.48 470.48 L585.04 470.13 L585.59 469.78 L586.14 469.43 L586.69 469.08 L587.23 468.73 L587.78 468.38 L588.32 468.04 L588.85 467.69 L589.38 467.35 L589.91 467.01 L590.44 466.67 L590.97 466.34 L591.49 466.00 L592.01 465.67 L592.52 465.33 L593.04 465.00 L593.55 464.67 L594.06 464.34 L594.56 464.02 L595.07 463.69 L595.57 463.37 L596.06 463.04 L596.56 462.72 L597.05 462.40 L597.54 462.08 L598.03 461.76 L598.52 461.45 L599.10 461.07 L599.67 460.69 L600.25 460.32 L600.81 459.95 L601.38 459.58 L601.94 459.21 L602.50 458.84 L603.06 458.48 L603.61 458.11 L604.16 457.75 L604.71 457.39 L605.26 457.03 L605.80 456.68 L606.34 456.32 L606.87 455.97 L607.40 455.62 L607.93 455.27 L608.46 454.92 L608.98 454.57 L609.51 454.23 L610.02 453.88 L610.54 453.54 L611.05 453.20 L611.56 452.86 L612.07 452.52 L612.58 452.19 L613.08 451.85 L613.58 451.52 L614.08 451.19 L614.57 450.86 L615.06 450.53 L615.55 450.20 L616.04 449.87 L616.53 449.55 L617.01 449.23 L617.49 448.90 L618.05 448.53 L618.60 448.16 L619.15 447.79 L619.70 447.42 L620.25 447.05 L620.79 446.69 L621.33 446.33 L621.86 445.96 L622.40 445.60 L622.93 445.25 L623.45 444.89 L623.98 444.53 L624.50 444.18 L625.02 443.83 L625.54 443.48 L626.05 443.13 L626.56 442.78 L627.07 442.44 L627.58 442.10 L628.08 441.75 L628.58 441.41 L629.08 441.07 L629.57 440.74 L630.07 440.40 L630.56 440.07 L631.05 439.73 L631.53 439.40 L632.02 439.07 L632.50 438.74 L632.98 438.41 L633.45 438.09 L633.99 437.72 L634.53 437.35 L635.07 436.98 L635.60 436.61 L636.13 436.25 L636.66 435.89 L637.18 435.53 L637.70 435.17 L638.22 434.81 L638.74 434.46 L639.25 434.10 L639.76 433.75 L640.27 433.40 L640.78 433.05 L641.28 432.70 L641.78 432.36 L642.28 432.01 L642.77 431.67 L643.27 431.33 L643.76 430.99 L644.24 430.65 L644.73 430.31 L645.21 429.98 L645.69 429.64 L646.17 429.31 L646.65 428.98 L647.12 428.65 L647.65 428.28 L648.18 427.92 L648.70 427.55 L649.23 427.19 L649.75 426.82 L650.26 426.46 L650.78 426.10 L651.29 425.75 L651.79 425.39 L652.30 425.04 L652.80 424.69 L653.30 424.34 L653.80 423.99 L654.30 423.64 L654.79 423.29 L655.28 422.95 L655.77 422.61 L656.25 422.26 L656.74 421.92 L657.22 421.59 L657.70 421.25 L658.17 420.91 L658.65 420.58 L659.12 420.25 L659.59 419.92 L660.11 419.55 L660.62 419.19 L661.14 418.82 L661.65 418.46 L662.16 418.10 L662.66 417.75 L663.17 417.39 L663.67 417.04 L664.16 416.68 L664.66 416.33 L665.15 415.98 L665.64 415.63 L666.13 415.29 L666.62 414.94 L667.10 414.60 L667.58 414.26 L668.06 413.92 L668.54 413.58 L669.01 413.24 L669.48 412.90 L669.95 412.57 L670.42 412.24 L670.93 411.87 L671.44 411.51 L671.94 411.15 L672.45 410.79 L672.95 410.43 L673.45 410.07 L673.94 409.72 L674.44 409.37 L674.93 409.02 L675.42 408.67 L675.90 408.32 L676.39 407.97 L676.87 407.63 L677.35 407.28 L677.82 406.94 L678.30 406.60 L678.77 406.26 L679.24 405.92 L679.71 405.59 L680.17 405.25 L680.68 404.89 L681.18 404.53 L681.68 404.17 L682.18 403.81 L682.67 403.45 L683.16 403.09 L683.65 402.74 L684.14 402.39 L684.63 402.04 L685.11 401.69 L685.59 401.34 L686.07 401.00 L686.54 400.65 L687.02 400.31 L687.49 399.97 L687.96 399.63 L688.42 399.29 L688.89 398.95 L689.39 398.59 L689.89 398.23 L690.38 397.87 L690.88 397.51 L691.37 397.15 L691.86 396.80 L692.34 396.45 L692.83 396.09 L693.31 395.74 L693.79 395.40 L694.26 395.05 L694.74 394.70 L695.21 394.36 L695.68 394.02 L696.14 393.68 L696.61 393.34 L697.07 393.00 L697.57 392.64 L698.06 392.28 L698.55 391.92 L699.04 391.56 L699.53 391.20 L700.01 390.85 L700.49 390.50 L700.97 390.15 L701.45 389.80 L701.93 389.45 L702.40 389.10 L702.87 388.76 L703.34 388.41 L703.80 388.07 L704.27 387.73 L704.73 387.39 L705.22 387.03 L705.71 386.67 L706.19 386.31 L706.68 385.96 L707.16 385.60 L707.64 385.25 L708.12 384.90 L708.59 384.55 L709.07 384.20 L709.54 383.85 L710.01 383.51 L710.47 383.16 L710.94 382.82 L711.40 382.48 L711.89 382.12 L712.38 381.76 L712.86 381.40 L713.34 381.04 L713.82 380.69 L714.30 380.33 L714.78 379.98 L715.25 379.63 L715.72 379.28 L716.19 378.93 L716.66 378.59 L717.12 378.24 L717.59 377.90 L718.05 377.56 L718.53 377.20 L719.02 376.84 L719.50 376.48 L719.98 376.12 L720.46 375.77 L720.93 375.41 L721.40 375.06 L721.87 374.71 L722.34 374.36 L722.81 374.02 L723.27 373.67 L723.73 373.33 L724.19 372.98 L724.68 372.62 L725.16 372.26 L725.64 371.91 L726.12 371.55 L726.59 371.20 L727.06 370.84 L727.53 370.49 L728.00 370.14 L728.47 369.79 L728.93 369.45 L729.39 369.10 L729.85 368.76 L730.33 368.40 L730.81 368.04 L731.29 367.68 L731.77 367.32 L732.24 366.97 L732.71 366.62 L733.18 366.27 L733.65 365.92 L734.11 365.57 L734.57 365.22 L735.03 364.88 L735.49 364.53 L735.97 364.17 L736.45 363.81 L736.92 363.46 L737.39 363.10 L737.86 362.75 L738.33 362.39 L738.80 362.04 L739.26 361.69 L739.72 361.35 L740.18 361.00 L740.64 360.66 L741.12 360.30 L741.59 359.94 L742.07 359.58 L742.54 359.23 L743.01 358.87 L743.47 358.52 L743.94 358.17 L744.40 357.82 L744.86 357.47 L745.32 357.13 L745.77 356.78 L746.25 356.42 L746.72 356.06 L747.19 355.71 L747.66 355.35 L748.12 355.00 L748.59 354.65 L749.05 354.30 L749.51 353.95 L749.97 353.61 L750.42 353.26 L750.90 352.90 L751.37 352.54 L751.84 352.19 L752.30 351.83 L752.77 351.48 L753.23 351.13 L753.69 350.78 L754.15 350.43 L754.60 350.08 L755.08 349.72 L755.55 349.36 L756.02 349.01 L756.49 348.65 L756.95 348.30 L757.41 347.95 L757.87 347.60 L758.33 347.25 L758.79 346.90 L759.24 346.55 L759.71 346.19 L760.18 345.84 L760.65 345.48 L761.11 345.13 L761.57 344.77 L762.03 344.42 L762.49 344.07 L762.95 343.73 L763.42 343.37 L763.89 343.01 L764.35 342.65 L764.82 342.29 L765.28 341.94 L765.74 341.59 L766.20 341.24 L766.65 340.89 L767.11 340.54 L767.58 340.18 L768.04 339.82 L768.51 339.47 L768.97 339.11 L769.43 338.76 L769.89 338.41 L770.35 338.06 L770.80 337.71 L771.27 337.35 L771.74 336.99 L772.20 336.64 L772.66 336.28 L773.12 335.93 L773.58 335.57 L774.04 335.22 L774.49 334.88 L774.96 334.52 L775.42 334.16 L775.88 333.80 L776.35 333.45 L776.80 333.09 L777.26 332.74 L777.72 332.39 L778.17 332.04 L778.63 331.68 L779.10 331.33 L779.56 330.97 L780.02 330.62 L780.48 330.26 L780.93 329.91 L781.38 329.56 L781.85 329.20 L782.31 328.85 L782.77 328.49 L783.23 328.13 L783.69 327.78 L784.15 327.43 L784.60 327.08 L785.06 326.72 L785.53 326.36 L785.99 326.00 L786.45 325.65 L786.90 325.29 L787.36 324.94 L787.81 324.59 L788.28 324.23 L788.74 323.87 L789.20 323.52 L789.66 323.16 L790.11 322.81 L790.57 322.46 L791.02 322.11 L791.48 321.75 L791.94 321.39 L792.40 321.03 L792.86 320.68 L793.31 320.33 L793.77 319.97 L794.22 319.62 L794.68 319.27 L795.14 318.91 L795.59 318.55 L796.05 318.20 L796.50 317.85 L796.95 317.49 L797.42 317.14 L797.88 316.78 L798.33 316.42 L798.79 316.07 L799.24 315.71 L799.69 315.36 L800.15 315.00 L800.61 314.64 L801.07 314.29 L801.53 313.93 L801.98 313.58 L802.43 313.23 L802.89 312.87 L803.35 312.51 L803.81 312.15 L804.26 311.80 L804.71 311.45 L805.16 311.09 L805.62 310.73 L806.08 310.38 L806.54 310.02 L806.99 309.67 L807.44 309.31 L807.89 308.96 L808.35 308.60 L808.81 308.24 L809.26 307.89 L809.72 307.53 L810.17 307.18 L810.63 306.82 L811.08 306.46 L811.54 306.11 L811.99 305.75 L812.44 305.40 L812.89 305.04 L813.35 304.69 L813.81 304.33 L814.26 303.97 L814.71 303.62 L815.16 303.26 L815.62 302.90 L816.08 302.55 L816.53 302.19 L816.98 301.84 L817.43 301.48 L817.89 301.12 L818.35 300.76 L818.80 300.41 L819.25 300.05 L819.70 299.70 L820.16 299.34 L820.62 298.98 L821.07 298.62 L821.52 298.27 L821.97 297.91 L822.43 297.55 L822.88 297.19 L823.34 296.84 L823.79 296.48 L824.24 296.13 L824.69 295.77 L825.15 295.41 L825.60 295.05 L826.05 294.70 L826.50 294.34 L826.95 293.98 L827.41 293.63 L827.86 293.27 L828.31 292.92 L828.76 292.56 L829.21 292.20 L829.66 291.85 L830.11 291.49 L830.56 291.13 L831.02 290.77 L831.47 290.42 L831.92 290.06 L832.37 289.70 L832.82 289.35 L833.27 288.99 L833.73 288.63 L834.18 288.28 L834.62 287.92 L835.08 287.56 L835.53 287.21 L835.98 286.85 L836.43 286.49 L836.88 286.13 L837.34 285.77 L837.79 285.42 L838.24 285.06 L838.68 284.71 L839.14 284.35 L839.59 283.99 L840.04 283.63 L840.48 283.28 L840.94 282.92 L841.39 282.56 L841.84 282.21 L842.28 281.85 L842.73 281.49 L843.19 281.13 L843.63 280.78 L844.08 280.42 L844.53 280.06 L844.98 279.70 L845.43 279.35 L845.88 278.99 L846.33 278.63 L846.78 278.28 L847.23 277.92 L847.68 277.56 L848.13 277.20 L848.58 276.85 L849.02 276.49 L849.47 276.14 L849.92 275.78 L850.37 275.42 L850.82 275.06 L851.27 274.70 L851.72 274.34 L852.17 273.99 L852.61 273.63 L853.06 273.27 L853.51 272.91 L853.96 272.56 L854.41 272.20 L854.86 271.84 L855.30 271.48 L855.75 271.13 L856.20 270.77 L856.65 270.41 L857.10 270.05 L857.54 269.70 L857.99 269.34 L858.44 268.98 L858.89 268.62 L859.34 268.26 L859.79 267.90 L860.23 267.55 L860.68 267.19 L861.13 266.83 L861.57 266.47 L862.02 266.12 L862.47 265.76 L862.92 265.40 L863.36 265.04 L863.81 264.68 L864.26 264.32 L864.71 263.97 L865.16 263.60 L865.61 263.24 L866.05 262.89 L866.50 262.53 L866.95 262.17 L867.39 261.81 L867.84 261.46 L868.29 261.10 L868.73 260.74 L869.18 260.38 L869.63 260.02 L870.07 259.66 L870.52 259.31 L870.97 258.94 L871.41 258.59 L871.86 258.23 L872.31 257.87 L872.75 257.51 L873.20 257.15 L873.65 256.79 L874.09 256.43 L874.54 256.07 L874.99 255.71 L875.43 255.36 L875.88 255.00 L876.33 254.64 L876.77 254.28 L877.22 253.92 L877.66 253.56 L878.11 253.20 L878.55 252.85 L879.00 252.49 L879.45 252.13 L879.89 251.77 L880.34 251.41 L880.78 251.05 L881.23 250.69 L881.67 250.33 L882.12 249.97 L882.57 249.61 L883.01 249.25 L883.45 248.90 L883.90 248.54 L884.35 248.18 L884.79 247.82 L885.24 247.46 L885.68 247.10 L886.13 246.74 L886.58 246.38 L887.02 246.02 L887.47 245.66 L887.91 245.30 L888.36 244.94 L888.80 244.58 L889.25 244.22 L889.69 243.86 L890.14 243.50 L890.58 243.14 L891.03 242.78 L891.47 242.42 L891.92 242.06 L892.36 241.70 L892.81 241.34 L893.25 240.98 L893.70 240.62 L894.14 240.26 L894.58 239.90 L895.03 239.54 L895.48 239.18 L895.92 238.82 L896.36 238.46 L896.81 238.10 L897.25 237.74 L897.70 237.38 L898.14 237.02 L898.59 236.66 L899.03 236.30 L899.47 235.94 L899.92 235.58 L900.36 235.22 L900.80 234.86 L901.25 234.50 L901.69 234.14 L902.14 233.78 L902.58 233.42 L903.02 233.06 L903.47 232.70 L903.91 232.34 L904.35 231.98 L904.80 231.62 L905.24 231.26 L905.68 230.90 L906.13 230.54 L906.57 230.18 L907.01 229.82 L907.46 229.46 L907.90 229.10 L908.34 228.74 L908.79 228.38 L909.23 228.02 L909.67 227.66 L910.11 227.30 L910.56 226.94 L911.00 226.58 L911.44 226.22 L911.89 225.86 L912.33 225.50 L912.77 225.14 L913.21 224.78 L913.66 224.42 L914.10 224.06 L914.54 223.69 L914.99 223.33 L915.43 222.97 L915.87 222.61 L916.32 222.25 L916.76 221.89 L917.20 221.53 L917.64 221.17 L918.08 220.81 L918.53 220.45 L918.97 220.09 L919.41 219.73 L919.85 219.37 L920.29 219.01 L920.73 218.65 L921.18 218.28 L921.62 217.92 L922.06 217.56 L922.51 217.20 L922.95 216.84 L923.39 216.48 L923.83 216.12 L924.27 215.76 L924.72 215.39 L925.16 215.03 L925.60 214.67 L926.04 214.31 L926.48 213.95 L926.93 213.59 L927.37 213.23 L927.81 212.87 L928.25 212.51 L928.69 212.14 L929.13 211.78 L929.57 211.42 L930.02 211.06 L930.46 210.70 L930.90 210.34 L931.34 209.97 L931.78 209.61 L932.22 209.25 L932.67 208.89 L933.11 208.53 L933.55 208.17 L933.99 207.81 L934.43 207.44 L934.87 207.08 L935.31 206.72 L935.76 206.36 L936.20 206.00 L936.64 205.64 L937.08 205.27 L937.52 204.91 L937.96 204.55 L938.40 204.19 L938.84 203.83 L939.29 203.46 L939.72 203.10 L940.17 202.74 L940.61 202.38 L941.05 202.02 L941.49 201.65 L941.93 201.29 L942.37 200.93 L942.81 200.57 L943.25 200.21 L943.69 199.84 L944.13 199.48 L944.58 199.12 L945.02 198.76 L945.46 198.40 L945.90 198.03 L946.34 197.67 L946.78 197.31 L947.22 196.95 L947.66 196.58 L948.10 196.22 L948.54 195.86 L948.98 195.50 L949.42 195.14 L949.86 194.77 L950.30 194.41 L950.74 194.05 L951.18 193.69 L951.62 193.32 L952.06 192.96 L952.50 192.60 L952.94 192.24 L953.38 191.87 L953.82 191.51 L954.26 191.15 L954.70 190.79 L955.14 190.42 L955.58 190.06 L956.02 189.70 L956.46 189.34 L956.90 188.97 L957.34 188.61 L957.78 188.25 L958.22 187.88 L958.66 187.52 L959.10 187.16 L959.54 186.80 L959.98 186.43 L960.42 186.07 L960.86 185.71 L961.30 185.35 L961.73 184.98 L962.17 184.62 L962.61 184.26 L963.05 183.90 L963.49 183.53 L963.93 183.17 L964.37 182.81 L964.81 182.44 L965.25 182.08 L965.69 181.72 L966.13 181.35 L966.57 180.99 L967.01 180.63 L967.44 180.27 L967.88 179.90 L968.32 179.54 L968.76 179.18 L969.20 178.81 L969.64 178.45 L970.08 178.09 L970.52 177.72 L970.96 177.36 L971.39 177.00 L971.83 176.63 L972.27 176.27 L972.71 175.91 L973.15 175.54 L973.59 175.18 L974.03 174.82 L974.47 174.45 L974.91 174.09 L975.34 173.73 L975.78 173.36 L976.22 173.00 L976.66 172.64 L977.10 172.27 L977.54 171.91 L977.98 171.55 L978.41 171.18 L978.85 170.82 L979.29 170.45 L979.73 170.09 L980.17 169.72 L980.61 169.36 L981.05 169.00 L981.48 168.63 L981.50 168.62 L982.27 167.98" stroke="#4DBEEE"/>
<path d="M212.80 284.72 L217.59 390.00 L222.17 433.42 L226.53 459.68 L230.71 477.82 L234.72 491.24 L238.58 501.62 L242.29 509.87 L245.86 516.58 L249.31 522.12 L252.64 526.76 L255.86 530.67 L258.98 533.99 L262.00 536.83 L264.93 539.27 L267.78 541.38 L270.55 543.19 L273.24 544.77 L275.86 546.13 L278.41 547.31 L280.90 548.33 L283.33 549.21 L285.70 549.96 L288.01 550.61 L290.27 551.16 L292.47 551.62 L294.63 552.01 L296.75 552.32 L298.81 552.58 L300.84 552.78 L302.82 552.93 L304.77 553.03 L306.68 553.09 L308.55 553.11 L310.39 553.10 L312.19 553.06 L313.96 552.99 L315.70 552.89 L317.41 552.77 L319.09 552.63 L320.74 552.47 L322.36 552.28 L323.96 552.09 L325.53 551.88 L327.08 551.65 L328.60 551.41 L330.10 551.16 L331.58 550.90 L333.03 550.62 L334.47 550.34 L335.88 550.05 L337.28 549.76 L338.65 549.45 L340.01 549.14 L341.34 548.82 L342.66 548.50 L343.96 548.17 L345.25 547.84 L346.51 547.50 L347.77 547.16 L349.00 546.82 L350.22 546.47 L351.43 546.12 L352.62 545.77 L353.80 545.42 L354.96 545.06 L356.11 544.70 L357.24 544.34 L358.37 543.98 L359.48 543.61 L360.57 543.25 L361.66 542.88 L362.73 542.52 L363.80 542.15 L364.85 541.78 L365.89 541.42 L366.91 541.05 L367.93 540.68 L368.94 540.31 L369.94 539.94 L370.93 539.57 L371.90 539.20 L372.87 538.84 L373.83 538.47 L374.78 538.10 L375.72 537.73 L376.65 537.36 L377.57 537.00 L378.49 536.63 L379.39 536.27 L380.29 535.90 L381.18 535.54 L382.06 535.17 L382.93 534.81 L383.80 534.45 L384.66 534.09 L385.51 533.73 L386.35 533.37 L387.19 533.01 L388.02 532.65 L388.84 532.29 L389.65 531.94 L390.46 531.58 L391.26 531.23 L392.06 530.88 L392.85 530.53 L393.63 530.18 L394.41 529.83 L395.18 529.48 L395.94 529.13 L396.70 528.78 L397.46 528.44 L398.20 528.09 L398.94 527.75 L399.68 527.41 L400.41 527.07 L401.14 526.73 L401.86 526.39 L402.57 526.05 L403.28 525.72 L403.98 525.38 L404.68 525.05 L405.38 524.71 L406.07 524.38 L406.75 524.05 L407.43 523.72 L408.11 523.39 L408.78 523.07 L409.44 522.74 L410.10 522.41 L410.76 522.09 L411.41 521.77 L412.06 521.45 L412.71 521.13 L413.35 520.81 L413.98 520.49 L414.62 520.17 L415.24 519.86 L415.87 519.54 L416.49 519.23 L417.10 518.91 L417.71 518.60 L418.32 518.29 L418.93 517.98 L419.53 517.67 L420.13 517.37 L420.72 517.06 L421.31 516.76 L421.90 516.45 L422.48 516.15 L423.06 515.85 L423.64 515.55 L424.21 515.25 L424.78 514.95 L425.34 514.65 L425.91 514.36 L426.47 514.06 L427.02 513.77 L427.58 513.47 L428.13 513.18 L428.67 512.89 L429.22 512.60 L429.76 512.31 L430.30 512.02 L430.83 511.73 L431.37 511.45 L431.90 511.16 L432.42 510.88 L432.95 510.60 L433.47 510.31 L434.50 509.75 L435.53 509.19 L436.54 508.64 L437.54 508.09 L438.53 507.54 L439.52 507.00 L440.49 506.46 L441.45 505.93 L442.41 505.39 L443.35 504.87 L444.29 504.34 L445.21 503.82 L446.13 503.30 L447.04 502.79 L447.94 502.27 L448.84 501.77 L449.72 501.26 L450.60 500.76 L451.47 500.26 L452.33 499.77 L453.18 499.27 L454.03 498.78 L454.87 498.30 L455.70 497.82 L456.53 497.34 L457.35 496.86 L458.16 496.38 L458.96 495.91 L459.76 495.44 L460.56 494.98 L461.34 494.52 L462.12 494.06 L462.90 493.60 L463.66 493.14 L464.42 492.69 L465.18 492.24 L465.93 491.79 L466.67 491.35 L467.41 490.91 L468.15 490.47 L468.87 490.03 L469.60 489.60 L470.31 489.17 L471.03 488.74 L471.73 488.31 L472.43 487.89 L473.13 487.46 L473.82 487.04 L474.51 486.63 L475.19 486.21 L475.87 485.80 L476.54 485.39 L477.21 484.98 L477.87 484.57 L478.53 484.17 L479.19 483.76 L479.84 483.36 L480.49 482.96 L481.13 482.57 L481.77 482.17 L482.40 481.78 L483.03 481.39 L483.66 481.00 L484.28 480.62 L484.90 480.23 L485.51 479.85 L486.12 479.47 L486.73 479.09 L487.33 478.72 L487.93 478.34 L488.52 477.97 L489.12 477.60 L489.70 477.23 L490.29 476.86 L490.87 476.49 L491.45 476.13 L492.02 475.77 L492.59 475.41 L493.16 475.05 L493.73 474.69 L494.29 474.34 L494.85 473.98 L495.40 473.63 L495.95 473.28 L496.50 472.93 L497.05 472.58 L497.59 472.24 L498.13 471.89 L498.67 471.55 L499.20 471.21 L499.73 470.87 L500.26 470.53 L500.79 470.19 L501.31 469.86 L501.83 469.52 L502.35 469.19 L502.86 468.86 L503.37 468.53 L503.88 468.20 L504.39 467.88 L504.89 467.55 L505.39 467.23 L505.89 466.91 L506.39 466.58 L506.88 466.26 L507.37 465.95 L507.86 465.63 L508.35 465.31 L509.07 464.84 L509.79 464.37 L510.51 463.91 L511.22 463.45 L511.92 462.99 L512.62 462.53 L513.31 462.07 L514.00 461.62 L514.69 461.17 L515.37 460.73 L516.04 460.28 L516.71 459.84 L517.38 459.40 L518.04 458.97 L518.70 458.53 L519.35 458.10 L520.00 457.67 L520.64 457.25 L521.28 456.82 L521.92 456.40 L522.55 455.98 L523.18 455.56 L523.80 455.15 L524.42 454.74 L525.04 454.33 L525.65 453.92 L526.26 453.51 L526.86 453.11 L527.47 452.71 L528.06 452.31 L528.66 451.91 L529.25 451.51 L529.83 451.12 L530.42 450.73 L531.00 450.34 L531.57 449.95 L532.14 449.57 L532.71 449.18 L533.28 448.80 L533.84 448.42 L534.40 448.04 L534.96 447.67 L535.51 447.29 L536.06 446.92 L536.61 446.55 L537.16 446.18 L537.70 445.82 L538.24 445.45 L538.77 445.09 L539.30 444.72 L539.83 444.36 L540.36 444.01 L540.88 443.65 L541.40 443.29 L541.92 442.94 L542.44 442.59 L542.95 442.24 L543.46 441.89 L543.97 441.54 L544.48 441.20 L544.98 440.85 L545.48 440.51 L545.98 440.17 L546.47 439.83 L546.96 439.49 L547.45 439.16 L547.94 438.82 L548.43 438.49 L548.91 438.16 L549.39 437.83 L549.87 437.50 L550.34 437.17 L550.97 436.73 L551.60 436.30 L552.22 435.87 L552.84 435.44 L553.46 435.02 L554.07 434.60 L554.68 434.18 L555.28 433.76 L555.88 433.34 L556.48 432.93 L557.07 432.52 L557.66 432.11 L558.24 431.70 L558.83 431.29 L559.40 430.89 L559.98 430.49 L560.55 430.09 L561.12 429.70 L561.69 429.30 L562.25 428.91 L562.81 428.52 L563.36 428.13 L563.92 427.74 L564.47 427.36 L565.01 426.98 L565.56 426.59 L566.10 426.21 L566.63 425.84 L567.17 425.46 L567.70 425.09 L568.23 424.72 L568.76 424.35 L569.28 423.98 L569.80 423.61 L570.32 423.25 L570.83 422.88 L571.34 422.52 L571.85 422.16 L572.36 421.81 L572.87 421.45 L573.37 421.09 L573.87 420.74 L574.36 420.39 L574.86 420.04 L575.35 419.69 L575.84 419.35 L576.33 419.00 L576.81 418.66 L577.29 418.31 L577.77 417.97 L578.25 417.63 L578.73 417.30 L579.20 416.96 L579.67 416.63 L580.14 416.29 L580.72 415.88 L581.30 415.47 L581.87 415.06 L582.45 414.65 L583.02 414.24 L583.58 413.84 L584.14 413.44 L584.70 413.04 L585.26 412.64 L585.81 412.24 L586.36 411.85 L586.91 411.46 L587.45 411.07 L587.99 410.68 L588.53 410.30 L589.07 409.91 L589.60 409.53 L590.13 409.15 L590.65 408.77 L591.18 408.40 L591.70 408.02 L592.21 407.65 L592.73 407.28 L593.24 406.91 L593.75 406.54 L594.26 406.18 L594.76 405.81 L595.27 405.45 L595.77 405.09 L596.26 404.73 L596.76 404.37 L597.25 404.02 L597.74 403.66 L598.23 403.31 L598.71 402.96 L599.19 402.61 L599.67 402.26 L600.15 401.92 L600.63 401.57 L601.10 401.23 L601.57 400.89 L602.04 400.55 L602.50 400.21 L602.97 399.87 L603.52 399.47 L604.07 399.07 L604.62 398.67 L605.17 398.27 L605.71 397.88 L606.25 397.48 L606.78 397.09 L607.32 396.71 L607.85 396.32 L608.37 395.93 L608.90 395.55 L609.42 395.17 L609.94 394.79 L610.45 394.41 L610.97 394.04 L611.48 393.66 L611.99 393.29 L612.49 392.92 L612.99 392.55 L613.50 392.19 L613.99 391.82 L614.49 391.46 L614.98 391.10 L615.47 390.74 L615.96 390.38 L616.45 390.02 L616.93 389.67 L617.41 389.31 L617.89 388.96 L618.36 388.61 L618.84 388.26 L619.31 387.92 L619.78 387.57 L620.25 387.23 L620.71 386.88 L621.17 386.54 L621.63 386.20 L622.17 385.81 L622.70 385.42 L623.23 385.02 L623.76 384.64 L624.28 384.25 L624.80 383.86 L625.32 383.48 L625.83 383.10 L626.34 382.72 L626.85 382.34 L627.36 381.97 L627.86 381.60 L628.37 381.22 L628.87 380.85 L629.36 380.48 L629.86 380.12 L630.35 379.75 L630.84 379.39 L631.32 379.03 L631.81 378.67 L632.29 378.31 L632.77 377.95 L633.25 377.60 L633.72 377.24 L634.20 376.89 L634.67 376.54 L635.14 376.19 L635.60 375.84 L636.07 375.50 L636.53 375.15 L636.99 374.81 L637.51 374.42 L638.03 374.03 L638.55 373.65 L639.06 373.26 L639.57 372.88 L640.08 372.50 L640.59 372.12 L641.09 371.75 L641.59 371.37 L642.09 371.00 L642.59 370.63 L643.08 370.26 L643.57 369.89 L644.06 369.52 L644.55 369.16 L645.03 368.79 L645.51 368.43 L645.99 368.07 L646.47 367.71 L646.94 367.36 L647.42 367.00 L647.89 366.65 L648.35 366.30 L648.82 365.95 L649.28 365.60 L649.75 365.25 L650.20 364.91 L650.66 364.56 L651.17 364.18 L651.68 363.79 L652.19 363.41 L652.69 363.03 L653.19 362.65 L653.69 362.28 L654.19 361.90 L654.68 361.53 L655.17 361.16 L655.66 360.79 L656.15 360.42 L656.63 360.06 L657.11 359.69 L657.59 359.33 L658.07 358.97 L658.54 358.61 L659.01 358.26 L659.48 357.90 L659.95 357.55 L660.42 357.19 L660.88 356.84 L661.34 356.49 L661.80 356.14 L662.26 355.80 L662.76 355.41 L663.27 355.03 L663.77 354.65 L664.26 354.28 L664.76 353.90 L665.25 353.53 L665.74 353.15 L666.23 352.78 L666.71 352.41 L667.20 352.05 L667.68 351.68 L668.16 351.32 L668.63 350.95 L669.10 350.59 L669.58 350.24 L670.04 349.88 L670.51 349.52 L670.98 349.17 L671.44 348.82 L671.90 348.46 L672.36 348.11 L672.81 347.77 L673.27 347.42 L673.76 347.04 L674.26 346.66 L674.75 346.29 L675.24 345.91 L675.73 345.54 L676.21 345.17 L676.69 344.80 L677.17 344.43 L677.65 344.07 L678.12 343.71 L678.60 343.34 L679.07 342.98 L679.54 342.62 L680.00 342.27 L680.47 341.91 L680.93 341.56 L681.39 341.20 L681.85 340.85 L682.30 340.50 L682.75 340.16 L683.25 339.78 L683.74 339.40 L684.22 339.03 L684.71 338.66 L685.19 338.29 L685.67 337.92 L686.15 337.55 L686.62 337.18 L687.10 336.82 L687.57 336.46 L688.04 336.10 L688.50 335.74 L688.97 335.38 L689.43 335.02 L689.89 334.67 L690.35 334.32 L690.80 333.97 L691.25 333.62 L691.74 333.24 L692.23 332.86 L692.71 332.49 L693.20 332.12 L693.67 331.75 L694.15 331.38 L694.63 331.01 L695.10 330.65 L695.57 330.28 L696.04 329.92 L696.50 329.56 L696.97 329.20 L697.43 328.85 L697.89 328.49 L698.34 328.14 L698.80 327.79 L699.25 327.43 L699.74 327.06 L700.22 326.68 L700.70 326.31 L701.18 325.94 L701.65 325.57 L702.13 325.20 L702.60 324.84 L703.07 324.48 L703.54 324.11 L704.00 323.75 L704.46 323.39 L704.92 323.04 L705.38 322.68 L705.84 322.33 L706.29 321.97 L706.74 321.62 L707.23 321.25 L707.70 320.87 L708.18 320.50 L708.66 320.13 L709.13 319.77 L709.60 319.40 L710.07 319.03 L710.53 318.67 L711.00 318.31 L711.46 317.95 L711.92 317.59 L712.38 317.24 L712.83 316.88 L713.28 316.53 L713.73 316.18 L714.21 315.80 L714.69 315.43 L715.16 315.06 L715.64 314.69 L716.10 314.33 L716.57 313.96 L717.04 313.60 L717.50 313.24 L717.96 312.88 L718.42 312.52 L718.88 312.16 L719.33 311.81 L719.78 311.45 L720.23 311.10 L720.71 310.73 L721.18 310.36 L721.65 309.99 L722.12 309.62 L722.59 309.25 L723.05 308.89 L723.52 308.53 L723.98 308.17 L724.44 307.81 L724.89 307.45 L725.35 307.09 L725.80 306.74 L726.25 306.39 L726.72 306.01 L727.19 305.64 L727.66 305.27 L728.13 304.91 L728.60 304.54 L729.06 304.18 L729.52 303.82 L729.98 303.46 L730.43 303.10 L730.89 302.74 L731.34 302.38 L731.79 302.03 L732.24 301.68 L732.71 301.31 L733.18 300.94 L733.65 300.57 L734.11 300.21 L734.57 299.84 L735.03 299.48 L735.49 299.12 L735.95 298.76 L736.40 298.40 L736.85 298.05 L737.30 297.69 L737.75 297.34 L738.22 296.97 L738.68 296.60 L739.15 296.24 L739.61 295.87 L740.07 295.51 L740.53 295.15 L740.98 294.79 L741.43 294.43 L741.89 294.07 L742.34 293.72 L742.78 293.36 L743.25 292.99 L743.72 292.63 L744.18 292.26 L744.64 291.90 L745.10 291.53 L745.55 291.17 L746.01 290.81 L746.46 290.45 L746.91 290.10 L747.36 289.74 L747.83 289.37 L748.29 289.00 L748.76 288.64 L749.22 288.27 L749.68 287.91 L750.13 287.55 L750.59 287.18 L751.04 286.83 L751.49 286.47 L751.94 286.11 L752.38 285.76 L752.85 285.39 L753.31 285.02 L753.77 284.66 L754.23 284.29 L754.68 283.93 L755.14 283.57 L755.59 283.21 L756.04 282.86 L756.49 282.50 L756.95 282.13 L757.41 281.76 L757.87 281.40 L758.33 281.03 L758.79 280.67 L759.24 280.31 L759.69 279.95 L760.14 279.59 L760.59 279.23 L761.04 278.88 L761.50 278.51 L761.96 278.15 L762.42 277.78 L762.87 277.42 L763.33 277.06 L763.78 276.70 L764.23 276.34 L764.67 275.98 L765.12 275.63 L765.58 275.26 L766.04 274.89 L766.50 274.53 L766.95 274.16 L767.40 273.80 L767.85 273.44 L768.30 273.09 L768.75 272.73 L769.21 272.36 L769.67 271.99 L770.13 271.63 L770.58 271.26 L771.04 270.90 L771.49 270.54 L771.94 270.18 L772.38 269.83 L772.83 269.47 L773.29 269.10 L773.74 268.74 L774.20 268.37 L774.65 268.01 L775.10 267.65 L775.55 267.29 L776.00 266.93 L776.44 266.58 L776.90 266.21 L777.36 265.84 L777.81 265.48 L778.26 265.12 L778.71 264.76 L779.16 264.40 L779.61 264.04 L780.06 263.67 L780.52 263.30 L780.98 262.94 L781.43 262.58 L781.88 262.21 L782.33 261.85 L782.77 261.50 L783.22 261.14 L783.68 260.77 L784.13 260.41 L784.58 260.04 L785.04 259.68 L785.48 259.32 L785.93 258.96 L786.38 258.60 L786.83 258.23 L787.29 257.87 L787.74 257.50 L788.19 257.14 L788.64 256.78 L789.09 256.42 L789.53 256.06 L789.99 255.70 L790.44 255.33 L790.90 254.97 L791.35 254.60 L791.79 254.24 L792.24 253.88 L792.68 253.53 L793.14 253.16 L793.59 252.79 L794.04 252.43 L794.49 252.07 L794.94 251.71 L795.39 251.35 L795.83 250.99 L796.28 250.62 L796.74 250.26 L797.19 249.90 L797.63 249.53 L798.08 249.17 L798.52 248.82 L798.98 248.45 L799.43 248.08 L799.88 247.72 L800.33 247.36 L800.77 247.00 L801.22 246.64 L801.67 246.27 L802.13 245.91 L802.58 245.54 L803.02 245.18 L803.47 244.82 L803.91 244.46 L804.37 244.09 L804.82 243.73 L805.27 243.36 L805.72 243.00 L806.16 242.64 L806.61 242.28 L807.06 241.91 L807.51 241.55 L807.96 241.18 L808.41 240.82 L808.85 240.46 L809.30 240.10 L809.75 239.73 L810.20 239.37 L810.65 239.01 L811.09 238.64 L811.54 238.28 L811.98 237.93 L812.43 237.56 L812.88 237.19 L813.33 236.83 L813.77 236.47 L814.22 236.11 L814.67 235.74 L815.12 235.38 L815.57 235.02 L816.01 234.65 L816.46 234.29 L816.90 233.93 L817.35 233.57 L817.80 233.20 L818.24 232.84 L818.69 232.48 L819.13 232.12 L819.58 231.76 L820.03 231.39 L820.47 231.03 L820.92 230.67 L821.36 230.31 L821.81 229.94 L822.26 229.58 L822.71 229.21 L823.15 228.85 L823.59 228.49 L824.04 228.13 L824.49 227.76 L824.94 227.40 L825.38 227.04 L825.82 226.68 L826.27 226.31 L826.72 225.95 L827.16 225.58 L827.61 225.22 L828.05 224.86 L828.50 224.50 L828.94 224.13 L829.39 223.77 L829.83 223.41 L830.27 223.05 L830.72 222.68 L831.16 222.32 L831.61 221.96 L832.05 221.60 L832.50 221.23 L832.94 220.87 L833.39 220.50 L833.83 220.14 L834.27 219.78 L834.72 219.42 L835.17 219.05 L835.61 218.69 L836.05 218.33 L836.50 217.96 L836.94 217.60 L837.39 217.24 L837.83 216.88 L838.28 216.51 L838.73 216.14 L839.17 215.78 L839.61 215.42 L840.05 215.06 L840.50 214.69 L840.94 214.33 L841.39 213.97 L841.83 213.61 L842.27 213.24 L842.72 212.88 L843.16 212.51 L843.60 212.15 L844.05 211.79 L844.49 211.42 L844.94 211.06 L845.38 210.70 L845.82 210.33 L846.27 209.97 L846.71 209.61 L847.15 209.24 L847.60 208.88 L848.04 208.51 L848.49 208.15 L848.93 207.79 L849.37 207.42 L849.82 207.06 L850.26 206.70 L850.70 206.34 L851.14 205.97 L851.59 205.61 L852.03 205.25 L852.47 204.88 L852.91 204.52 L853.35 204.16 L853.79 203.79 L854.24 203.43 L854.68 203.06 L855.13 202.70 L855.57 202.34 L856.01 201.97 L856.45 201.61 L856.90 201.25 L857.33 200.89 L857.78 200.52 L858.22 200.16 L858.66 199.79 L859.11 199.43 L859.55 199.06 L859.99 198.70 L860.43 198.34 L860.87 197.98 L861.31 197.61 L861.75 197.25 L862.20 196.88 L862.64 196.52 L863.08 196.16 L863.53 195.79 L863.97 195.43 L864.41 195.06 L864.85 194.70 L865.29 194.34 L865.73 193.97 L866.17 193.61 L866.62 193.24 L867.06 192.88 L867.50 192.52 L867.94 192.15 L868.39 191.79 L868.83 191.42 L869.27 191.06 L869.71 190.69 L870.15 190.33 L870.59 189.97 L871.03 189.60 L871.47 189.24 L871.91 188.88 L872.36 188.51 L872.80 188.15 L873.23 187.78 L873.68 187.42 L874.12 187.06 L874.56 186.69 L875.00 186.33 L875.44 185.96 L875.88 185.60 L876.32 185.24 L876.76 184.87 L877.20 184.51 L877.64 184.14 L878.08 183.78 L878.52 183.42 L878.96 183.05 L879.40 182.69 L879.84 182.32 L880.29 181.96 L880.73 181.59 L881.17 181.23 L881.61 180.86 L882.05 180.50 L882.49 180.13 L882.93 179.77 L883.37 179.41 L883.81 179.04 L884.25 178.68 L884.69 178.31 L885.13 177.95 L885.57 177.58 L886.01 177.22 L886.45 176.85 L886.89 176.49 L887.33 176.12 L887.77 175.76 L888.21 175.40 L888.65 175.03 L889.09 174.67 L889.53 174.30 L889.97 173.94 L890.41 173.57 L890.85 173.21 L891.29 172.84 L891.73 172.48 L892.17 172.11 L892.61 171.75 L893.05 171.38 L893.49 171.02 L893.93 170.65 L894.37 170.29 L894.81 169.92 L895.25 169.56 L895.69 169.19 L896.13 168.83 L896.57 168.46 L897.01 168.10 L897.45 167.73 L897.88 167.37 L898.33 167.00 L898.76 166.64 L899.21 166.27 L899.64 165.91 L900.08 165.54 L900.52 165.18 L900.96 164.81 L901.40 164.45 L901.84 164.08 L902.28 163.71 L902.72 163.35 L903.16 162.98 L903.60 162.62 L904.03 162.25 L904.47 161.89 L904.91 161.52 L905.35 161.16 L905.79 160.79 L906.23 160.43 L906.67 160.06 L907.11 159.70 L907.55 159.33 L907.98 158.97 L908.42 158.60 L908.86 158.24 L909.30 157.87 L909.74 157.51 L910.18 157.14 L910.61 156.78 L911.05 156.41 L911.49 156.05 L911.93 155.68 L912.37 155.31 L912.81 154.95 L913.25 154.58 L913.69 154.22 L914.12 153.85 L914.56 153.48 L915.00 153.12 L915.44 152.75 L915.88 152.39 L916.32 152.02 L916.76 151.65 L917.20 151.29 L917.63 150.92 L918.07 150.55 L918.51 150.19 L918.95 149.82 L919.39 149.46 L919.83 149.09 L920.26 148.73 L920.70 148.36 L921.14 147.99 L921.58 147.63 L922.01 147.26 L922.45 146.90 L922.89 146.53 L923.33 146.17 L923.76 145.80 L924.20 145.44 L924.64 145.07 L925.08 144.70 L925.51 144.34 L925.95 143.97 L926.39 143.61 L926.83 143.24 L927.26 142.87 L927.70 142.51 L928.14 142.14 L928.58 141.78 L929.01 141.41 L929.45 141.04 L929.89 140.68 L930.32 140.31 L930.76 139.95 L931.20 139.58 L931.64 139.22 L932.07 138.85 L932.51 138.48 L932.95 138.12 L933.38 137.75 L933.82 137.39 L934.26 137.02 L934.70 136.65 L935.13 136.29 L935.57 135.92 L936.01 135.55 L936.44 135.19 L936.88 134.82 L937.31 134.46 L937.75 134.09 L938.19 133.72 L938.62 133.36 L939.06 132.99 L939.50 132.63 L939.94 132.26 L940.37 131.89 L940.81 131.53 L941.24 131.16 L941.68 130.80 L942.12 130.43 L942.55 130.06 L942.99 129.70 L943.42 129.33 L943.86 128.97 L944.30 128.60 L944.73 128.23 L945.17 127.87 L945.61 127.50 L946.04 127.14 L946.48 126.77 L946.91 126.40 L947.35 126.04 L947.78 125.67 L948.22 125.30 L948.66 124.94 L949.09 124.57 L949.53 124.20 L949.97 123.84 L950.40 123.47 L950.84 123.10 L951.27 122.74 L951.71 122.37 L952.15 122.01 L952.58 121.64 L953.02 121.27 L953.45 120.91 L953.89 120.54 L954.32 120.17 L954.76 119.80 L955.20 119.44 L955.63 119.07 L956.07 118.70 L956.51 118.34 L956.94 117.97 L957.38 117.60 L957.81 117.24 L958.25 116.87 L958.68 116.50 L959.12 116.14 L959.55 115.77 L959.99 115.40 L960.43 115.04 L960.86 114.67 L961.30 114.30 L961.73 113.94 L962.17 113.57 L962.60 113.20 L963.04 112.84 L963.47 112.47 L963.91 112.10 L964.34 111.73 L964.78 111.37 L965.21 111.00 L965.65 110.63 L966.08 110.27 L966.52 109.90 L966.96 109.53 L967.39 109.17 L967.82 108.80 L968.26 108.43 L968.69 108.06 L969.13 107.70 L969.57 107.33 L970.00 106.96 L970.43 106.60 L970.87 106.23 L971.30 105.86 L971.74 105.50 L972.17 105.13 L972.61 104.76 L973.04 104.39 L973.48 104.03 L973.91 103.66 L974.35 103.29 L974.78 102.93 L975.22 102.56 L975.65 102.19 L976.09 101.82 L976.52 101.46 L976.96 101.09 L977.39 100.72 L977.83 100.35 L978.26 99.98 L978.70 99.62 L979.13 99.25 L979.56 98.88 L980.00 98.52 L980.43 98.15 L980.87 97.78 L981.30 97.42 L981.50 97.25 L982.26 96.60" stroke="#A2142F"/>
</g>
<g font-family="Liberation Sans, Arial, Helvetica, sans-serif" font-weight="bold" style="font-kerning:none" fill="#262626">
<text x="32.0" y="683.0" font-size="23.5">10<tspan dy="-10.9" dx="0.4" font-size="18.3">2</tspan></text>
<text x="32.0" y="463.7" font-size="23.5">10<tspan dy="-10.9" dx="0.4" font-size="18.3">3</tspan></text>
<text x="32.0" y="244.4" font-size="23.5">10<tspan dy="-10.9" dx="0.4" font-size="18.3">4</tspan></text>
<text x="32.0" y="25.1" font-size="23.5">10<tspan dy="-10.9" dx="0.4" font-size="18.3">5</tspan></text>
<text x="54.4" y="710.4" font-size="23.5">10<tspan dy="-11.2" dx="0.4" font-size="18.3">-1</tspan></text>
<text x="284.6" y="710.4" font-size="23.5">10<tspan dy="-11.2" dx="0.4" font-size="18.3">0</tspan></text>
<text x="510.7" y="710.4" font-size="23.5">10<tspan dy="-11.2" dx="0.4" font-size="18.3">1</tspan></text>
<text x="736.8" y="710.4" font-size="23.5">10<tspan dy="-11.2" dx="0.4" font-size="18.3">2</tspan></text>
<text x="962.9" y="710.4" font-size="23.5">10<tspan dy="-11.2" dx="0.4" font-size="18.3">3</tspan></text>
<text x="530" y="745" font-size="25.67" text-anchor="middle">pd(Torr·cm)</text>
<text transform="translate(20.8 343.0) rotate(-90)" font-size="25.67" text-anchor="middle">V(V)</text>
</g>
<rect x="449.3" y="13.3" width="91.6" height="204.0" fill="#fff" stroke="#262626" stroke-width="1.15"/>
<g font-family="Liberation Sans, Arial, Helvetica, sans-serif" font-weight="bold" style="font-kerning:none" font-size="21.6" fill="#000">
<path d="M453.9 30.25 H504.7" stroke="#0072BD" stroke-width="3.1" fill="none"/>
<text x="507.5" y="38.65">He</text>
<path d="M453.9 58.40 H504.7" stroke="#D95319" stroke-width="3.1" fill="none"/>
<text x="507.5" y="66.80">Ne</text>
<path d="M453.9 87.85 H504.7" stroke="#EDB120" stroke-width="3.1" fill="none"/>
<text x="507.5" y="96.25">Ar</text>
<path d="M453.9 116.00 H504.7" stroke="#7E2F8E" stroke-width="3.1" fill="none"/>
<text x="507.5" y="124.40">Ke</text>
<path d="M453.9 144.10 H504.7" stroke="#77AC30" stroke-width="3.1" fill="none"/>
<text x="507.5" y="152.50">Xe</text>
<path d="M453.9 173.75 H504.7" stroke="#4DBEEE" stroke-width="3.1" fill="none"/>
<text x="507.5" y="182.15">H2</text>
<path d="M453.9 201.90 H504.7" stroke="#A2142F" stroke-width="3.1" fill="none"/>
<text x="507.5" y="210.30">N2</text>
</g>
</svg>
</body></html>
